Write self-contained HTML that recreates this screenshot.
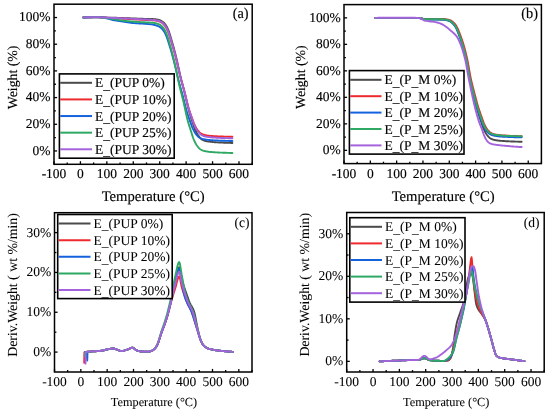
<!DOCTYPE html>
<html><head><meta charset="utf-8"><title>TGA</title><style>
html,body{margin:0;padding:0;background:#fff;width:550px;height:413px;overflow:hidden}
svg{display:block;text-rendering:geometricPrecision}
text{font-family:"Liberation Serif","Times New Roman",serif;fill:#000;stroke:#000;stroke-width:0.14px}
.lite{stroke-width:0.05px}
.tl{font-size:13.5px}
.lt{font-size:13.5px}
.pl{font-size:14.3px}
.xl{font-size:14.7px}
.xl2{font-size:12.3px}
.pl2{font-size:13.5px}
.yl{font-size:13.8px}
.tk{stroke:#000;stroke-width:1.3}
.fr{fill:none;stroke:#000;stroke-width:1.5}
.lg{fill:#fff;stroke:#000;stroke-width:1.6}
</style></head><body>
<svg width="550" height="413" viewBox="0 0 550 413">
<rect width="550" height="413" fill="#fff"/>
<clipPath id="ca"><rect x="54.00" y="4.20" width="198.20" height="160.10"/></clipPath>
<g clip-path="url(#ca)" fill="none" stroke-width="1.9" stroke-linejoin="round" stroke-linecap="round">
<path d="M83.33 17.54L84.98 17.44L86.62 17.35L88.27 17.28L89.91 17.23L91.56 17.19L93.20 17.16L94.85 17.15L96.49 17.14L98.14 17.17L99.78 17.22L101.43 17.29L103.07 17.37L104.72 17.46L106.36 17.52L108.01 17.58L109.65 17.62L111.30 17.67L112.94 17.71L114.59 17.76L116.23 17.80L117.88 17.86L119.52 17.91L121.17 17.97L122.82 18.03L124.46 18.10L126.11 18.16L127.75 18.22L129.40 18.29L131.04 18.35L132.69 18.41L134.33 18.47L135.98 18.54L137.62 18.60L139.27 18.67L140.91 18.73L142.56 18.79L144.20 18.84L145.85 18.89L147.49 18.93L149.14 18.97L149.50 18.98L149.86 18.99L150.23 19.00L150.59 19.01L150.95 19.02L151.32 19.03L151.68 19.04L152.04 19.04L152.41 19.05L152.77 19.06L153.13 19.07L153.50 19.08L153.86 19.10L154.22 19.13L154.59 19.17L154.95 19.21L155.31 19.25L155.68 19.30L156.04 19.35L156.40 19.41L156.77 19.47L157.13 19.52L157.49 19.58L157.86 19.66L158.22 19.74L158.58 19.84L158.95 19.94L159.31 20.05L159.67 20.18L160.04 20.31L160.40 20.45L160.76 20.60L161.13 20.78L161.49 20.98L161.85 21.20L162.22 21.44L162.58 21.69L162.94 21.96L163.31 22.25L163.67 22.57L164.03 22.92L164.40 23.31L164.76 23.73L165.12 24.19L165.49 24.67L165.85 25.18L166.21 25.74L166.58 26.37L166.94 27.04L167.30 27.77L167.67 28.54L168.03 29.36L168.39 30.21L168.76 31.12L169.12 32.11L169.48 33.19L169.85 34.32L170.21 35.50L170.57 36.71L170.94 37.94L171.30 39.18L171.66 40.41L172.03 41.66L172.39 42.92L172.75 44.20L173.12 45.51L173.48 46.83L173.84 48.18L174.21 49.54L174.57 50.92L174.94 52.32L175.30 53.74L175.66 55.18L176.03 56.64L176.39 58.13L176.75 59.67L177.12 61.25L177.48 62.87L177.84 64.52L178.21 66.19L178.57 67.87L178.93 69.55L179.30 71.22L179.66 72.88L180.02 74.51L180.39 76.12L180.75 77.68L181.11 79.19L181.48 80.65L181.84 82.07L182.20 83.46L182.57 84.82L182.93 86.17L183.29 87.52L183.66 88.87L184.02 90.23L184.38 91.62L184.75 93.04L185.11 94.51L185.47 96.03L185.84 97.59L186.20 99.18L186.56 100.78L186.93 102.38L187.29 103.98L187.65 105.56L188.02 107.10L188.38 108.60L188.74 110.04L189.11 111.41L189.47 112.70L189.83 113.94L190.20 115.13L190.56 116.28L190.92 117.40L191.29 118.50L191.65 119.58L192.01 120.64L192.38 121.71L192.74 122.77L193.10 123.86L193.47 124.95L193.83 126.05L194.19 127.12L194.56 128.14L194.92 129.10L195.28 129.98L195.65 130.77L196.01 131.53L196.37 132.26L196.74 132.96L197.10 133.62L197.46 134.25L197.83 134.85L198.19 135.40L198.55 135.92L198.92 136.39L199.28 136.85L199.64 137.30L200.01 137.72L200.37 138.12L200.73 138.49L201.10 138.83L201.46 139.13L201.82 139.38L202.19 139.60L202.55 139.80L202.91 139.99L203.28 140.17L203.64 140.34L204.00 140.49L204.37 140.63L204.73 140.76L205.09 140.88L205.46 140.98L205.82 141.07L206.18 141.14L206.55 141.22L206.91 141.29L207.27 141.35L208.32 141.53L209.37 141.68L210.41 141.82L211.46 141.93L212.50 142.03L213.55 142.12L214.60 142.20L215.64 142.28L216.69 142.34L217.74 142.41L218.78 142.46L219.83 142.52L220.87 142.56L221.92 142.61L222.97 142.65L224.01 142.69L225.06 142.73L226.10 142.77L227.15 142.80L228.20 142.84L229.24 142.88L230.29 142.91L231.33 142.93L232.38 142.95" stroke="#4a4a4a"/>
<path d="M83.33 17.54L84.98 17.45L86.62 17.39L88.27 17.34L89.91 17.31L91.56 17.29L93.20 17.28L94.85 17.28L96.49 17.28L98.14 17.30L99.78 17.37L101.43 17.46L103.07 17.57L104.72 17.68L106.36 17.78L108.01 17.87L109.65 17.96L111.30 18.05L112.94 18.15L114.59 18.24L116.23 18.33L117.88 18.43L119.52 18.52L121.17 18.61L122.82 18.70L124.46 18.79L126.11 18.88L127.75 18.97L129.40 19.06L131.04 19.15L132.69 19.24L134.33 19.34L135.98 19.44L137.62 19.53L139.27 19.63L140.91 19.72L142.56 19.81L144.20 19.89L145.85 19.96L147.49 20.03L149.14 20.09L149.50 20.10L149.86 20.12L150.23 20.13L150.59 20.14L150.95 20.16L151.32 20.17L151.68 20.18L152.04 20.19L152.41 20.21L152.77 20.23L153.13 20.25L153.50 20.28L153.86 20.32L154.22 20.37L154.59 20.41L154.95 20.47L155.31 20.52L155.68 20.58L156.04 20.64L156.40 20.69L156.77 20.76L157.13 20.84L157.49 20.92L157.86 21.01L158.22 21.11L158.58 21.22L158.95 21.34L159.31 21.46L159.67 21.59L160.04 21.75L160.40 21.92L160.76 22.11L161.13 22.32L161.49 22.55L161.85 22.79L162.22 23.04L162.58 23.32L162.94 23.62L163.31 23.96L163.67 24.34L164.03 24.74L164.40 25.17L164.76 25.63L165.12 26.12L165.49 26.66L165.85 27.25L166.21 27.90L166.58 28.59L166.94 29.32L167.30 30.09L167.67 30.90L168.03 31.77L168.39 32.73L168.76 33.74L169.12 34.82L169.48 35.93L169.85 37.08L170.21 38.24L170.57 39.41L170.94 40.57L171.30 41.74L171.66 42.93L172.03 44.14L172.39 45.37L172.75 46.62L173.12 47.89L173.48 49.17L173.84 50.48L174.21 51.80L174.57 53.14L174.94 54.49L175.30 55.87L175.66 57.28L176.03 58.73L176.39 60.23L176.75 61.76L177.12 63.32L177.48 64.89L177.84 66.47L178.21 68.05L178.57 69.62L178.93 71.18L179.30 72.71L179.66 74.21L180.02 75.67L180.39 77.09L180.75 78.45L181.11 79.78L181.48 81.08L181.84 82.36L182.20 83.63L182.57 84.90L182.93 86.17L183.29 87.46L183.66 88.77L184.02 90.11L184.38 91.50L184.75 92.94L185.11 94.41L185.47 95.91L185.84 97.42L186.20 98.93L186.56 100.43L186.93 101.90L187.29 103.35L187.65 104.75L188.02 106.09L188.38 107.37L188.74 108.57L189.11 109.73L189.47 110.84L189.83 111.92L190.20 112.97L190.56 114.00L190.92 115.01L191.29 116.01L191.65 117.01L192.01 118.01L192.38 119.04L192.74 120.07L193.10 121.10L193.47 122.10L193.83 123.05L194.19 123.94L194.56 124.75L194.92 125.49L195.28 126.20L195.65 126.88L196.01 127.53L196.37 128.15L196.74 128.74L197.10 129.29L197.46 129.80L197.83 130.28L198.19 130.73L198.55 131.15L198.92 131.57L199.28 131.96L199.64 132.33L200.01 132.68L200.37 132.99L200.73 133.26L201.10 133.50L201.46 133.70L201.82 133.89L202.19 134.06L202.55 134.23L202.91 134.38L203.28 134.53L203.64 134.66L204.00 134.77L204.37 134.88L204.73 134.97L205.09 135.06L205.46 135.13L205.82 135.20L206.18 135.26L206.55 135.32L206.91 135.38L207.27 135.44L208.32 135.59L209.37 135.72L210.41 135.83L211.46 135.93L212.50 136.02L213.55 136.09L214.60 136.16L215.64 136.23L216.69 136.29L217.74 136.34L218.78 136.39L219.83 136.44L220.87 136.48L221.92 136.52L222.97 136.56L224.01 136.60L225.06 136.63L226.10 136.67L227.15 136.70L228.20 136.74L229.24 136.76L230.29 136.79L231.33 136.81L232.38 136.81" stroke="#ee2a2e"/>
<path d="M83.33 17.54L84.98 17.49L86.62 17.43L88.27 17.39L89.91 17.35L91.56 17.32L93.20 17.29L94.85 17.28L96.49 17.27L98.14 17.27L99.78 17.27L101.43 17.27L103.07 17.38L104.72 17.76L106.36 18.22L108.01 18.65L109.65 19.15L111.30 19.62L112.94 19.96L114.59 20.21L116.23 20.46L117.88 20.71L119.52 20.97L121.17 21.22L122.82 21.48L124.46 21.75L126.11 22.06L127.75 22.39L129.40 22.68L131.04 22.89L132.69 23.04L134.33 23.16L135.98 23.27L137.62 23.36L139.27 23.44L140.91 23.53L142.56 23.62L144.20 23.72L145.85 23.84L147.49 23.98L149.14 24.12L149.50 24.15L149.86 24.18L150.23 24.21L150.59 24.24L150.95 24.28L151.32 24.32L151.68 24.37L152.04 24.43L152.41 24.49L152.77 24.56L153.13 24.64L153.50 24.72L153.86 24.80L154.22 24.88L154.59 24.96L154.95 25.05L155.31 25.15L155.68 25.26L156.04 25.38L156.40 25.51L156.77 25.65L157.13 25.80L157.49 25.92L157.86 26.04L158.22 26.18L158.58 26.34L158.95 26.52L159.31 26.71L159.67 26.93L160.04 27.16L160.40 27.41L160.76 27.67L161.13 27.95L161.49 28.27L161.85 28.62L162.22 29.00L162.58 29.41L162.94 29.85L163.31 30.32L163.67 30.82L164.03 31.38L164.40 31.99L164.76 32.65L165.12 33.36L165.49 34.10L165.85 34.89L166.21 35.71L166.58 36.61L166.94 37.58L167.30 38.62L167.67 39.70L168.03 40.83L168.39 41.98L168.76 43.14L169.12 44.30L169.48 45.45L169.85 46.63L170.21 47.82L170.57 49.04L170.94 50.27L171.30 51.52L171.66 52.79L172.03 54.08L172.39 55.39L172.75 56.71L173.12 58.05L173.48 59.41L173.84 60.79L174.21 62.21L174.57 63.68L174.94 65.18L175.30 66.72L175.66 68.27L176.03 69.84L176.39 71.42L176.75 72.99L177.12 74.55L177.48 76.10L177.84 77.61L178.21 79.10L178.57 80.54L178.93 81.93L179.30 83.27L179.66 84.59L180.02 85.88L180.39 87.15L180.75 88.41L181.11 89.67L181.48 90.94L181.84 92.23L182.20 93.55L182.57 94.90L182.93 96.31L183.29 97.75L183.66 99.23L184.02 100.73L184.38 102.23L184.75 103.74L185.11 105.22L185.47 106.69L185.84 108.11L186.20 109.49L186.56 110.80L186.93 112.05L187.29 113.23L187.65 114.37L188.02 115.46L188.38 116.53L188.74 117.56L189.11 118.58L189.47 119.58L189.83 120.58L190.20 121.58L190.56 122.58L190.92 123.61L191.29 124.64L191.65 125.66L192.01 126.64L192.38 127.57L192.74 128.43L193.10 129.20L193.47 129.92L193.83 130.62L194.19 131.29L194.56 131.93L194.92 132.53L195.28 133.10L195.65 133.64L196.01 134.14L196.37 134.60L196.74 135.04L197.10 135.46L197.46 135.87L197.83 136.25L198.19 136.61L198.55 136.94L198.92 137.24L199.28 137.50L199.64 137.72L200.01 137.91L200.37 138.10L200.73 138.27L201.10 138.43L201.46 138.58L201.82 138.72L202.19 138.84L202.55 138.96L202.91 139.06L203.28 139.15L203.64 139.22L204.00 139.29L204.37 139.36L204.73 139.43L205.09 139.49L205.46 139.54L205.82 139.60L206.18 139.65L206.55 139.70L206.91 139.75L207.27 139.80L208.32 139.92L209.37 140.02L210.41 140.11L211.46 140.19L212.50 140.27L213.55 140.33L214.60 140.40L215.64 140.45L216.69 140.51L217.74 140.55L218.78 140.60L219.83 140.64L220.87 140.68L221.92 140.71L222.97 140.75L224.01 140.79L225.06 140.82L226.10 140.86L227.15 140.89L228.20 140.91L229.24 140.93L230.29 140.95L231.33 140.95L232.38 140.95" stroke="#1462dc"/>
<path d="M83.33 17.54L84.98 17.45L86.62 17.39L88.27 17.34L89.91 17.31L91.56 17.29L93.20 17.28L94.85 17.28L96.49 17.28L98.14 17.31L99.78 17.40L101.43 17.52L103.07 17.68L104.72 17.85L106.36 18.02L108.01 18.22L109.65 18.47L111.30 18.77L112.94 19.09L114.59 19.39L116.23 19.66L117.88 19.89L119.52 20.11L121.17 20.33L122.82 20.55L124.46 20.75L126.11 20.94L127.75 21.12L129.40 21.28L131.04 21.42L132.69 21.55L134.33 21.68L135.98 21.79L137.62 21.90L139.27 22.00L140.91 22.10L142.56 22.19L144.20 22.28L145.85 22.37L147.49 22.45L149.14 22.53L149.50 22.55L149.86 22.57L150.23 22.59L150.59 22.60L150.95 22.62L151.32 22.64L151.68 22.65L152.04 22.68L152.41 22.71L152.77 22.75L153.13 22.80L153.50 22.86L153.86 22.91L154.22 22.98L154.59 23.04L154.95 23.11L155.31 23.18L155.68 23.25L156.04 23.33L156.40 23.42L156.77 23.53L157.13 23.65L157.49 23.76L157.86 23.88L158.22 24.01L158.58 24.15L158.95 24.30L159.31 24.48L159.67 24.68L160.04 24.89L160.40 25.13L160.76 25.39L161.13 25.66L161.49 25.95L161.85 26.26L162.22 26.61L162.58 26.99L162.94 27.42L163.31 27.87L163.67 28.36L164.03 28.88L164.40 29.43L164.76 30.04L165.12 30.72L165.49 31.45L165.85 32.23L166.21 33.06L166.58 33.93L166.94 34.84L167.30 35.83L167.67 36.91L168.03 38.06L168.39 39.27L168.76 40.52L169.12 41.80L169.48 43.10L169.85 44.40L170.21 45.70L170.57 47.01L170.94 48.35L171.30 49.70L171.66 51.08L172.03 52.48L172.39 53.90L172.75 55.34L173.12 56.80L173.48 58.28L173.84 59.78L174.21 61.30L174.57 62.83L174.94 64.42L175.30 66.05L175.66 67.73L176.03 69.45L176.39 71.19L176.75 72.95L177.12 74.71L177.48 76.48L177.84 78.23L178.21 79.96L178.57 81.67L178.93 83.34L179.30 84.96L179.66 86.53L180.02 88.05L180.39 89.53L180.75 90.97L181.11 92.40L181.48 93.82L181.84 95.23L182.20 96.65L182.57 98.10L182.93 99.57L183.29 101.07L183.66 102.64L184.02 104.25L184.38 105.90L184.75 107.58L185.11 109.26L185.47 110.95L185.84 112.62L186.20 114.26L186.56 115.87L186.93 117.42L187.29 118.91L187.65 120.32L188.02 121.66L188.38 122.94L188.74 124.17L189.11 125.37L189.47 126.54L189.83 127.68L190.20 128.81L190.56 129.93L190.92 131.04L191.29 132.17L191.65 133.31L192.01 134.47L192.38 135.61L192.74 136.72L193.10 137.78L193.47 138.76L193.83 139.64L194.19 140.46L194.56 141.24L194.92 142.00L195.28 142.72L195.65 143.40L196.01 144.05L196.37 144.66L196.74 145.23L197.10 145.75L197.46 146.25L197.83 146.72L198.19 147.18L198.55 147.62L198.92 148.02L199.28 148.40L199.64 148.74L200.01 149.04L200.37 149.30L200.73 149.52L201.10 149.72L201.46 149.92L201.82 150.10L202.19 150.27L202.55 150.43L202.91 150.57L203.28 150.70L203.64 150.82L204.00 150.92L204.37 151.01L204.73 151.09L205.09 151.16L205.46 151.24L205.82 151.30L206.18 151.37L206.55 151.43L206.91 151.49L207.27 151.55L208.32 151.70L209.37 151.83L210.41 151.94L211.46 152.04L212.50 152.13L213.55 152.21L214.60 152.28L215.64 152.35L216.69 152.42L217.74 152.47L218.78 152.53L219.83 152.58L220.87 152.62L221.92 152.66L222.97 152.70L224.01 152.74L225.06 152.78L226.10 152.82L227.15 152.86L228.20 152.89L229.24 152.92L230.29 152.94L231.33 152.96L232.38 152.96" stroke="#2fa864"/>
<path d="M83.33 17.54L84.98 17.43L86.62 17.34L88.27 17.27L89.91 17.22L91.56 17.18L93.20 17.16L94.85 17.14L96.49 17.14L98.14 17.17L99.78 17.24L101.43 17.34L103.07 17.45L104.72 17.56L106.36 17.65L108.01 17.73L109.65 17.80L111.30 17.86L112.94 17.93L114.59 18.00L116.23 18.07L117.88 18.14L119.52 18.21L121.17 18.29L122.82 18.36L124.46 18.44L126.11 18.51L127.75 18.59L129.40 18.67L131.04 18.75L132.69 18.83L134.33 18.92L135.98 19.02L137.62 19.11L139.27 19.21L140.91 19.30L142.56 19.39L144.20 19.48L145.85 19.56L147.49 19.64L149.14 19.72L149.50 19.74L149.86 19.76L150.23 19.77L150.59 19.79L150.95 19.81L151.32 19.82L151.68 19.84L152.04 19.86L152.41 19.87L152.77 19.89L153.13 19.92L153.50 19.95L153.86 19.99L154.22 20.03L154.59 20.08L154.95 20.14L155.31 20.20L155.68 20.26L156.04 20.32L156.40 20.39L156.77 20.45L157.13 20.53L157.49 20.60L157.86 20.69L158.22 20.78L158.58 20.89L158.95 21.00L159.31 21.12L159.67 21.25L160.04 21.39L160.40 21.55L160.76 21.73L161.13 21.93L161.49 22.14L161.85 22.38L162.22 22.63L162.58 22.89L162.94 23.18L163.31 23.50L163.67 23.85L164.03 24.24L164.40 24.65L164.76 25.10L165.12 25.57L165.49 26.08L165.85 26.64L166.21 27.26L166.58 27.93L166.94 28.64L167.30 29.40L167.67 30.19L168.03 31.02L168.39 31.93L168.76 32.92L169.12 33.97L169.48 35.07L169.85 36.21L170.21 37.38L170.57 38.56L170.94 39.74L171.30 40.92L171.66 42.12L172.03 43.33L172.39 44.57L172.75 45.82L173.12 47.09L173.48 48.39L173.84 49.70L174.21 51.02L174.57 52.37L174.94 53.73L175.30 55.11L175.66 56.51L176.03 57.96L176.39 59.45L176.75 60.98L177.12 62.54L177.48 64.12L177.84 65.72L178.21 67.32L178.57 68.93L178.93 70.52L179.30 72.09L179.66 73.64L180.02 75.15L180.39 76.63L180.75 78.05L181.11 79.42L181.48 80.76L181.84 82.08L182.20 83.37L182.57 84.66L182.93 85.94L183.29 87.24L183.66 88.55L184.02 89.89L184.38 91.26L184.75 92.69L185.11 94.16L185.47 95.66L185.84 97.18L186.20 98.71L186.56 100.25L186.93 101.76L187.29 103.25L187.65 104.71L188.02 106.12L188.38 107.46L188.74 108.74L189.11 109.95L189.47 111.11L189.83 112.22L190.20 113.31L190.56 114.37L190.92 115.41L191.29 116.43L191.65 117.45L192.01 118.46L192.38 119.48L192.74 120.53L193.10 121.58L193.47 122.61L193.83 123.62L194.19 124.57L194.56 125.45L194.92 126.25L195.28 126.99L195.65 127.70L196.01 128.38L196.37 129.03L196.74 129.65L197.10 130.24L197.46 130.79L197.83 131.30L198.19 131.78L198.55 132.22L198.92 132.65L199.28 133.07L199.64 133.46L200.01 133.83L200.37 134.17L200.73 134.48L201.10 134.75L201.46 134.97L201.82 135.17L202.19 135.36L202.55 135.54L202.91 135.70L203.28 135.86L203.64 136.00L204.00 136.13L204.37 136.24L204.73 136.35L205.09 136.44L205.46 136.52L205.82 136.59L206.18 136.66L206.55 136.72L206.91 136.79L207.27 136.84L208.32 137.00L209.37 137.14L210.41 137.26L211.46 137.36L212.50 137.45L213.55 137.53L214.60 137.60L215.64 137.67L216.69 137.73L217.74 137.79L218.78 137.84L219.83 137.89L220.87 137.93L221.92 137.98L222.97 138.01L224.01 138.05L225.06 138.09L226.10 138.12L227.15 138.16L228.20 138.19L229.24 138.22L230.29 138.25L231.33 138.27L232.38 138.28" stroke="#a463dc"/>
</g>
<clipPath id="cb"><rect x="344.00" y="4.60" width="197.40" height="159.00"/></clipPath>
<g clip-path="url(#cb)" fill="none" stroke-width="1.9" stroke-linejoin="round" stroke-linecap="round">
<path d="M375.32 17.85L376.91 17.85L378.49 17.85L380.08 17.85L381.66 17.85L383.25 17.85L384.84 17.85L386.42 17.85L388.01 17.85L389.59 17.85L391.18 17.85L392.76 17.85L394.35 17.85L395.94 17.85L397.52 17.85L399.11 17.85L400.69 17.85L402.28 17.85L403.86 17.85L405.45 17.85L407.04 17.85L408.62 17.85L410.21 17.85L411.79 17.86L413.38 17.87L414.97 17.89L416.55 17.92L418.14 17.96L419.72 18.06L421.31 18.48L422.89 18.94L424.48 19.31L426.07 19.34L427.65 19.36L429.24 19.38L430.82 19.39L432.41 19.40L433.99 19.40L435.58 19.41L437.17 19.42L438.75 19.44L439.11 19.44L439.48 19.45L439.84 19.45L440.20 19.46L440.56 19.46L440.92 19.47L441.29 19.48L441.65 19.48L442.01 19.49L442.37 19.49L442.73 19.50L443.09 19.51L443.46 19.52L443.82 19.55L444.18 19.59L444.54 19.64L444.90 19.69L445.27 19.75L445.63 19.82L445.99 19.88L446.35 19.95L446.71 20.03L447.08 20.09L447.44 20.17L447.80 20.25L448.16 20.35L448.52 20.46L448.89 20.57L449.25 20.70L449.61 20.84L449.97 21.00L450.33 21.17L450.69 21.37L451.06 21.61L451.42 21.88L451.78 22.17L452.14 22.48L452.50 22.81L452.87 23.14L453.23 23.49L453.59 23.87L453.95 24.27L454.31 24.70L454.68 25.16L455.04 25.65L455.40 26.18L455.76 26.74L456.12 27.36L456.49 28.05L456.85 28.81L457.21 29.63L457.57 30.51L457.93 31.41L458.29 32.34L458.66 33.29L459.02 34.23L459.38 35.19L459.74 36.16L460.10 37.17L460.47 38.20L460.83 39.26L461.19 40.34L461.55 41.46L461.91 42.61L462.28 43.79L462.64 45.00L463.00 46.25L463.36 47.54L463.72 48.86L464.08 50.22L464.45 51.62L464.81 53.06L465.17 54.55L465.53 56.08L465.89 57.66L466.26 59.28L466.62 60.95L466.98 62.73L467.34 64.67L467.70 66.72L468.07 68.86L468.43 71.05L468.79 73.25L469.15 75.42L469.51 77.52L469.88 79.53L470.24 81.40L470.60 83.12L470.96 84.76L471.32 86.33L471.68 87.85L472.05 89.34L472.41 90.80L472.77 92.24L473.13 93.70L473.49 95.16L473.86 96.62L474.22 98.08L474.58 99.54L474.94 100.99L475.30 102.42L475.67 103.83L476.03 105.23L476.39 106.60L476.75 107.94L477.11 109.25L477.48 110.53L477.84 111.76L478.20 112.96L478.56 114.13L478.92 115.27L479.28 116.38L479.65 117.47L480.01 118.55L480.37 119.62L480.73 120.67L481.09 121.73L481.46 122.80L481.82 123.88L482.18 124.96L482.54 126.02L482.90 127.04L483.27 127.99L483.63 128.86L483.99 129.65L484.35 130.40L484.71 131.12L485.08 131.82L485.44 132.47L485.80 133.10L486.16 133.69L486.52 134.24L486.88 134.75L487.25 135.22L487.61 135.68L487.97 136.12L488.33 136.54L488.69 136.93L489.06 137.30L489.42 137.64L489.78 137.94L490.14 138.19L490.50 138.41L490.87 138.61L491.23 138.80L491.59 138.98L491.95 139.14L492.31 139.30L492.68 139.44L493.04 139.56L493.40 139.68L493.76 139.78L494.12 139.87L494.48 139.95L494.85 140.02L495.21 140.09L495.57 140.15L495.93 140.22L496.29 140.28L496.66 140.34L497.70 140.49L498.74 140.62L499.78 140.73L500.82 140.83L501.87 140.92L502.91 141.00L503.95 141.07L504.99 141.14L506.03 141.20L507.07 141.25L508.12 141.31L509.16 141.35L510.20 141.40L511.24 141.44L512.28 141.48L513.33 141.51L514.37 141.55L515.41 141.59L516.45 141.63L517.49 141.66L518.53 141.69L519.58 141.71L520.62 141.73L521.66 141.74" stroke="#4a4a4a"/>
<path d="M375.32 17.85L376.91 17.85L378.49 17.85L380.08 17.85L381.66 17.85L383.25 17.85L384.84 17.85L386.42 17.85L388.01 17.85L389.59 17.85L391.18 17.85L392.76 17.85L394.35 17.85L395.94 17.85L397.52 17.85L399.11 17.85L400.69 17.85L402.28 17.85L403.86 17.85L405.45 17.85L407.04 17.85L408.62 17.85L410.21 17.85L411.79 17.86L413.38 17.87L414.97 17.89L416.55 17.92L418.14 17.96L419.72 18.05L421.31 18.38L422.89 18.75L424.48 19.04L426.07 19.04L427.65 19.04L429.24 19.04L430.82 19.04L432.41 19.04L433.99 19.04L435.58 19.04L437.17 19.04L438.75 19.04L439.11 19.04L439.48 19.04L439.84 19.04L440.20 19.04L440.56 19.04L440.92 19.04L441.29 19.04L441.65 19.04L442.01 19.04L442.37 19.04L442.73 19.04L443.09 19.04L443.46 19.04L443.82 19.05L444.18 19.06L444.54 19.09L444.90 19.12L445.27 19.17L445.63 19.21L445.99 19.27L446.35 19.33L446.71 19.39L447.08 19.45L447.44 19.51L447.80 19.58L448.16 19.66L448.52 19.74L448.89 19.84L449.25 19.95L449.61 20.07L449.97 20.20L450.33 20.34L450.69 20.49L451.06 20.67L451.42 20.89L451.78 21.13L452.14 21.40L452.50 21.69L452.87 22.00L453.23 22.32L453.59 22.65L453.95 23.00L454.31 23.37L454.68 23.77L455.04 24.20L455.40 24.65L455.76 25.14L456.12 25.67L456.49 26.23L456.85 26.86L457.21 27.56L457.57 28.32L457.93 29.14L458.29 30.00L458.66 30.88L459.02 31.78L459.38 32.69L459.74 33.59L460.10 34.52L460.47 35.47L460.83 36.45L461.19 37.45L461.55 38.48L461.91 39.54L462.28 40.62L462.64 41.74L463.00 42.89L463.36 44.07L463.72 45.29L464.08 46.54L464.45 47.83L464.81 49.15L465.17 50.52L465.53 51.93L465.89 53.37L466.26 54.87L466.62 56.40L466.98 57.98L467.34 59.63L467.70 61.42L468.07 63.34L468.43 65.36L468.79 67.44L469.15 69.55L469.51 71.65L469.88 73.70L470.24 75.67L470.60 77.52L470.96 79.23L471.32 80.83L471.68 82.37L472.05 83.85L472.41 85.29L472.77 86.70L473.13 88.09L473.49 89.48L473.86 90.87L474.22 92.28L474.58 93.68L474.94 95.08L475.30 96.47L475.67 97.85L476.03 99.22L476.39 100.56L476.75 101.89L477.11 103.19L477.48 104.46L477.84 105.70L478.20 106.90L478.56 108.06L478.92 109.20L479.28 110.30L479.65 111.38L480.01 112.43L480.37 113.47L480.73 114.50L481.09 115.52L481.46 116.53L481.82 117.54L482.18 118.58L482.54 119.62L482.90 120.65L483.27 121.64L483.63 122.58L483.99 123.46L484.35 124.24L484.71 124.98L485.08 125.69L485.44 126.36L485.80 127.01L486.16 127.62L486.52 128.20L486.88 128.75L487.25 129.25L487.61 129.73L487.97 130.17L488.33 130.59L488.69 131.00L489.06 131.39L489.42 131.76L489.78 132.10L490.14 132.40L490.50 132.67L490.87 132.89L491.23 133.09L491.59 133.28L491.95 133.45L492.31 133.61L492.68 133.77L493.04 133.91L493.40 134.03L493.76 134.15L494.12 134.25L494.48 134.34L494.85 134.42L495.21 134.49L495.57 134.56L495.93 134.63L496.29 134.69L496.66 134.75L497.70 134.90L498.74 135.04L499.78 135.15L500.82 135.26L501.87 135.35L502.91 135.43L503.95 135.50L504.99 135.56L506.03 135.63L507.07 135.68L508.12 135.73L509.16 135.78L510.20 135.83L511.24 135.87L512.28 135.91L513.33 135.94L514.37 135.98L515.41 136.01L516.45 136.05L517.49 136.08L518.53 136.11L519.58 136.14L520.62 136.16L521.66 136.17" stroke="#ee2a2e"/>
<path d="M375.32 17.85L376.91 17.85L378.49 17.85L380.08 17.85L381.66 17.85L383.25 17.85L384.84 17.85L386.42 17.85L388.01 17.85L389.59 17.85L391.18 17.85L392.76 17.85L394.35 17.85L395.94 17.85L397.52 17.85L399.11 17.85L400.69 17.85L402.28 17.85L403.86 17.85L405.45 17.85L407.04 17.85L408.62 17.85L410.21 17.85L411.79 17.86L413.38 17.87L414.97 17.89L416.55 17.92L418.14 17.96L419.72 18.06L421.31 18.48L422.89 18.94L424.48 19.30L426.07 19.37L427.65 19.41L429.24 19.45L430.82 19.47L432.41 19.49L433.99 19.51L435.58 19.53L437.17 19.55L438.75 19.57L439.11 19.58L439.48 19.59L439.84 19.59L440.20 19.60L440.56 19.60L440.92 19.61L441.29 19.62L441.65 19.62L442.01 19.63L442.37 19.63L442.73 19.64L443.09 19.67L443.46 19.70L443.82 19.74L444.18 19.78L444.54 19.84L444.90 19.90L445.27 19.96L445.63 20.03L445.99 20.10L446.35 20.17L446.71 20.24L447.08 20.31L447.44 20.40L447.80 20.50L448.16 20.61L448.52 20.73L448.89 20.85L449.25 20.99L449.61 21.15L449.97 21.33L450.33 21.54L450.69 21.78L451.06 22.05L451.42 22.34L451.78 22.65L452.14 22.97L452.50 23.30L452.87 23.64L453.23 24.02L453.59 24.41L453.95 24.84L454.31 25.30L454.68 25.79L455.04 26.31L455.40 26.87L455.76 27.49L456.12 28.19L456.49 28.96L456.85 29.77L457.21 30.63L457.57 31.51L457.93 32.42L458.29 33.33L458.66 34.24L459.02 35.17L459.38 36.12L459.74 37.10L460.10 38.10L460.47 39.13L460.83 40.19L461.19 41.28L461.55 42.40L461.91 43.56L462.28 44.74L462.64 45.96L463.00 47.21L463.36 48.50L463.72 49.83L464.08 51.20L464.45 52.61L464.81 54.06L465.17 55.55L465.53 57.09L465.89 58.68L466.26 60.32L466.62 62.10L466.98 64.02L467.34 66.04L467.70 68.13L468.07 70.25L468.43 72.36L468.79 74.42L469.15 76.41L469.51 78.29L469.88 80.01L470.24 81.63L470.60 83.18L470.96 84.67L471.32 86.12L471.68 87.54L472.05 88.94L472.41 90.33L472.77 91.73L473.13 93.14L473.49 94.55L473.86 95.96L474.22 97.36L474.58 98.74L474.94 100.12L475.30 101.47L475.67 102.81L476.03 104.11L476.39 105.39L476.75 106.64L477.11 107.85L477.48 109.03L477.84 110.16L478.20 111.27L478.56 112.36L478.92 113.42L479.28 114.47L479.65 115.50L480.01 116.52L480.37 117.54L480.73 118.56L481.09 119.60L481.46 120.64L481.82 121.67L482.18 122.68L482.54 123.63L482.90 124.52L483.27 125.31L483.63 126.06L483.99 126.77L484.35 127.45L484.71 128.10L485.08 128.72L485.44 129.31L485.80 129.86L486.16 130.37L486.52 130.85L486.88 131.29L487.25 131.72L487.61 132.14L487.97 132.53L488.33 132.90L488.69 133.24L489.06 133.55L489.42 133.82L489.78 134.05L490.14 134.25L490.50 134.44L490.87 134.62L491.23 134.78L491.59 134.93L491.95 135.08L492.31 135.21L492.68 135.32L493.04 135.43L493.40 135.52L493.76 135.60L494.12 135.67L494.48 135.74L494.85 135.81L495.21 135.87L495.57 135.93L495.93 135.98L496.29 136.04L496.66 136.09L497.70 136.23L498.74 136.34L499.78 136.45L500.82 136.54L501.87 136.62L502.91 136.69L503.95 136.75L504.99 136.82L506.03 136.87L507.07 136.92L508.12 136.97L509.16 137.02L510.20 137.06L511.24 137.10L512.28 137.13L513.33 137.17L514.37 137.21L515.41 137.24L516.45 137.28L517.49 137.31L518.53 137.33L519.58 137.35L520.62 137.36L521.66 137.36" stroke="#1462dc"/>
<path d="M375.32 17.85L376.91 17.85L378.49 17.85L380.08 17.85L381.66 17.85L383.25 17.85L384.84 17.85L386.42 17.85L388.01 17.85L389.59 17.85L391.18 17.85L392.76 17.85L394.35 17.85L395.94 17.85L397.52 17.85L399.11 17.85L400.69 17.85L402.28 17.85L403.86 17.85L405.45 17.85L407.04 17.85L408.62 17.85L410.21 17.85L411.79 17.86L413.38 17.87L414.97 17.89L416.55 17.92L418.14 17.96L419.72 18.05L421.31 18.38L422.89 18.80L424.48 19.17L426.07 19.21L427.65 19.23L429.24 19.26L430.82 19.27L432.41 19.29L433.99 19.30L435.58 19.30L437.17 19.31L438.75 19.31L439.11 19.31L439.48 19.31L439.84 19.31L440.20 19.31L440.56 19.31L440.92 19.31L441.29 19.31L441.65 19.31L442.01 19.31L442.37 19.31L442.73 19.31L443.09 19.31L443.46 19.33L443.82 19.36L444.18 19.40L444.54 19.44L444.90 19.49L445.27 19.54L445.63 19.60L445.99 19.66L446.35 19.72L446.71 19.79L447.08 19.86L447.44 19.94L447.80 20.02L448.16 20.12L448.52 20.24L448.89 20.36L449.25 20.49L449.61 20.63L449.97 20.79L450.33 20.97L450.69 21.19L451.06 21.44L451.42 21.72L451.78 22.01L452.14 22.32L452.50 22.64L452.87 22.97L453.23 23.32L453.59 23.70L453.95 24.10L454.31 24.54L454.68 25.00L455.04 25.50L455.40 26.02L455.76 26.59L456.12 27.24L456.49 27.95L456.85 28.72L457.21 29.55L457.57 30.41L457.93 31.29L458.29 32.19L458.66 33.10L459.02 34.01L459.38 34.94L459.74 35.89L460.10 36.87L460.47 37.88L460.83 38.91L461.19 39.97L461.55 41.07L461.91 42.19L462.28 43.34L462.64 44.53L463.00 45.75L463.36 47.01L463.72 48.30L464.08 49.63L464.45 51.00L464.81 52.41L465.17 53.87L465.53 55.37L465.89 56.91L466.26 58.50L466.62 60.16L466.98 61.97L467.34 63.92L467.70 65.95L468.07 68.03L468.43 70.14L468.79 72.23L469.15 74.27L469.51 76.22L469.88 78.04L470.24 79.72L470.60 81.31L470.96 82.84L471.32 84.31L471.68 85.74L472.05 87.14L472.41 88.53L472.77 89.91L473.13 91.31L473.49 92.71L473.86 94.12L474.22 95.51L474.58 96.90L474.94 98.28L475.30 99.64L475.67 100.98L476.03 102.30L476.39 103.59L476.75 104.85L477.11 106.09L477.48 107.28L477.84 108.44L478.20 109.56L478.56 110.66L478.92 111.73L479.28 112.78L479.65 113.82L480.01 114.84L480.37 115.86L480.73 116.87L481.09 117.88L481.46 118.92L481.82 119.96L482.18 120.98L482.54 121.97L482.90 122.90L483.27 123.76L483.63 124.53L483.99 125.25L484.35 125.95L484.71 126.62L485.08 127.26L485.44 127.87L485.80 128.44L486.16 128.98L486.52 129.48L486.88 129.95L487.25 130.38L487.61 130.81L487.97 131.22L488.33 131.60L488.69 131.96L489.06 132.29L489.42 132.59L489.78 132.85L490.14 133.07L490.50 133.26L490.87 133.44L491.23 133.62L491.59 133.78L491.95 133.93L492.31 134.07L492.68 134.19L493.04 134.30L493.40 134.41L493.76 134.49L494.12 134.57L494.48 134.64L494.85 134.71L495.21 134.77L495.57 134.83L495.93 134.89L496.29 134.95L496.66 135.00L497.70 135.14L498.74 135.26L499.78 135.37L500.82 135.46L501.87 135.54L502.91 135.61L503.95 135.68L504.99 135.74L506.03 135.80L507.07 135.85L508.12 135.90L509.16 135.95L510.20 135.99L511.24 136.03L512.28 136.07L513.33 136.10L514.37 136.14L515.41 136.17L516.45 136.21L517.49 136.24L518.53 136.27L519.58 136.29L520.62 136.30L521.66 136.30" stroke="#2fa864"/>
<path d="M375.32 17.85L376.91 17.83L378.49 17.82L380.08 17.80L381.66 17.79L383.25 17.78L384.84 17.77L386.42 17.75L388.01 17.74L389.59 17.74L391.18 17.73L392.76 17.72L394.35 17.72L395.94 17.72L397.52 17.72L399.11 17.72L400.69 17.72L402.28 17.72L403.86 17.72L405.45 17.72L407.04 17.72L408.62 17.72L410.21 17.72L411.79 17.73L413.38 17.75L414.97 17.79L416.55 17.85L418.14 17.93L419.72 18.13L421.31 18.87L422.89 19.76L424.48 20.62L426.07 20.90L427.65 21.09L429.24 21.30L430.82 21.49L432.41 21.68L433.99 21.89L435.58 22.15L437.17 22.49L438.75 22.95L439.11 23.08L439.48 23.20L439.84 23.33L440.20 23.47L440.56 23.61L440.92 23.76L441.29 23.90L441.65 24.06L442.01 24.23L442.37 24.41L442.73 24.60L443.09 24.81L443.46 25.02L443.82 25.24L444.18 25.47L444.54 25.70L444.90 25.94L445.27 26.19L445.63 26.44L445.99 26.69L446.35 26.95L446.71 27.22L447.08 27.50L447.44 27.79L447.80 28.09L448.16 28.40L448.52 28.71L448.89 29.02L449.25 29.34L449.61 29.66L449.97 29.98L450.33 30.31L450.69 30.62L451.06 30.93L451.42 31.24L451.78 31.54L452.14 31.84L452.50 32.14L452.87 32.45L453.23 32.76L453.59 33.08L453.95 33.41L454.31 33.76L454.68 34.11L455.04 34.48L455.40 34.88L455.76 35.29L456.12 35.72L456.49 36.18L456.85 36.67L457.21 37.22L457.57 37.81L457.93 38.45L458.29 39.14L458.66 39.87L459.02 40.64L459.38 41.44L459.74 42.28L460.10 43.14L460.47 44.02L460.83 44.93L461.19 45.89L461.55 46.90L461.91 47.95L462.28 49.05L462.64 50.20L463.00 51.39L463.36 52.63L463.72 53.92L464.08 55.26L464.45 56.64L464.81 58.08L465.17 59.56L465.53 61.12L465.89 62.86L466.26 64.77L466.62 66.79L466.98 68.89L467.34 71.02L467.70 73.13L468.07 75.19L468.43 77.14L468.79 78.98L469.15 80.80L469.51 82.59L469.88 84.35L470.24 86.09L470.60 87.81L470.96 89.51L471.32 91.20L471.68 92.86L472.05 94.53L472.41 96.19L472.77 97.85L473.13 99.50L473.49 101.13L473.86 102.74L474.22 104.31L474.58 105.85L474.94 107.35L475.30 108.79L475.67 110.19L476.03 111.54L476.39 112.87L476.75 114.18L477.11 115.45L477.48 116.70L477.84 117.91L478.20 119.09L478.56 120.24L478.92 121.35L479.28 122.43L479.65 123.46L480.01 124.43L480.37 125.34L480.73 126.22L481.09 127.09L481.46 127.97L481.82 128.89L482.18 129.87L482.54 130.93L482.90 132.01L483.27 133.08L483.63 134.10L483.99 135.03L484.35 135.90L484.71 136.73L485.08 137.54L485.44 138.28L485.80 138.95L486.16 139.53L486.52 140.07L486.88 140.58L487.25 141.06L487.61 141.51L487.97 141.91L488.33 142.27L488.69 142.57L489.06 142.82L489.42 143.02L489.78 143.22L490.14 143.39L490.50 143.55L490.87 143.70L491.23 143.84L491.59 143.96L491.95 144.07L492.31 144.16L492.68 144.25L493.04 144.32L493.40 144.40L493.76 144.46L494.12 144.52L494.48 144.58L494.85 144.63L495.21 144.68L495.57 144.73L495.93 144.78L496.29 144.82L496.66 144.86L497.70 144.99L498.74 145.11L499.78 145.23L500.82 145.35L501.87 145.46L502.91 145.57L503.95 145.67L504.99 145.77L506.03 145.87L507.07 145.97L508.12 146.06L509.16 146.16L510.20 146.25L511.24 146.34L512.28 146.43L513.33 146.51L514.37 146.59L515.41 146.66L516.45 146.73L517.49 146.80L518.53 146.87L519.58 146.93L520.62 146.98L521.66 147.04" stroke="#a463dc"/>
</g>
<clipPath id="cc"><rect x="54.50" y="212.70" width="197.50" height="159.30"/></clipPath>
<g clip-path="url(#cc)" fill="none" stroke-width="1.9" stroke-linejoin="round" stroke-linecap="round">
<path d="M84.78 355.27L84.98 353.19L85.18 352.09L85.64 351.95L86.10 351.89L86.63 351.83L87.15 351.77L87.68 351.73L88.21 351.69L88.73 351.66L89.26 351.62L89.79 351.59L90.31 351.56L90.84 351.53L91.37 351.49L91.89 351.45L92.42 351.41L92.95 351.38L93.47 351.35L94.00 351.31L94.53 351.28L95.05 351.25L95.58 351.22L96.11 351.18L96.63 351.15L97.16 351.12L97.69 351.08L98.21 351.04L98.74 351.00L99.27 350.96L99.79 350.91L100.32 350.86L100.85 350.81L101.37 350.75L101.90 350.69L102.45 350.61L103.00 350.51L103.55 350.38L104.09 350.24L104.64 350.09L105.19 349.93L105.74 349.77L106.29 349.61L106.84 349.46L107.39 349.32L107.93 349.20L108.48 349.10L109.04 349.01L109.60 348.92L110.15 348.83L110.71 348.74L111.26 348.67L111.82 348.60L112.37 348.55L112.93 348.52L113.49 348.50L114.01 348.54L114.54 348.66L115.07 348.83L115.59 349.03L116.12 349.26L116.65 349.49L117.17 349.71L117.70 349.90L118.26 350.09L118.83 350.32L119.39 350.54L119.96 350.75L120.52 350.93L121.09 351.05L121.65 351.09L122.18 351.07L122.70 351.00L123.23 350.89L123.76 350.76L124.28 350.60L124.81 350.42L125.34 350.23L125.86 350.05L126.39 349.87L126.92 349.70L127.47 349.51L128.02 349.28L128.58 349.02L129.13 348.75L129.68 348.49L130.23 348.25L130.79 348.03L131.34 347.86L131.89 347.75L132.45 347.71L132.97 347.80L133.50 348.04L134.03 348.39L134.55 348.81L135.08 349.25L135.61 349.68L136.13 350.04L136.66 350.30L137.19 350.48L137.71 350.67L138.24 350.84L138.77 351.00L139.29 351.14L139.82 351.27L140.35 351.37L140.87 351.44L141.40 351.49L141.95 351.52L142.50 351.55L143.05 351.57L143.59 351.60L144.14 351.62L144.69 351.64L145.24 351.65L145.79 351.67L146.34 351.68L146.89 351.68L147.43 351.69L147.98 351.69L148.54 351.66L149.10 351.59L149.66 351.48L150.22 351.33L150.78 351.15L151.34 350.95L151.90 350.73L152.46 350.49L152.99 350.22L153.51 349.85L154.04 349.40L154.57 348.87L155.09 348.26L155.62 347.60L156.15 346.88L156.67 346.11L157.23 345.13L157.79 343.88L158.34 342.42L158.90 340.80L159.45 339.07L160.01 337.29L160.56 335.52L161.12 333.79L161.68 332.18L162.20 330.73L162.73 329.33L163.26 327.94L163.78 326.55L164.31 325.15L164.84 323.71L165.36 322.22L165.89 320.67L166.42 319.03L166.98 317.18L167.55 315.24L168.11 313.22L168.67 311.10L169.24 308.91L169.80 306.64L170.37 304.30L170.89 301.95L171.42 299.40L171.95 296.71L172.47 293.93L173.00 291.14L173.53 288.40L174.05 285.76L174.58 283.30L175.11 281.07L175.69 278.59L176.28 275.95L176.87 273.35L177.45 270.98L178.04 269.05L178.63 267.74L179.21 267.26L179.83 268.67L180.45 272.02L181.07 275.95L181.69 279.14L182.25 281.18L182.80 283.07L183.36 284.84L183.91 286.52L184.47 288.12L185.03 289.68L185.58 291.22L186.14 292.77L186.69 294.34L187.27 296.02L187.85 297.68L188.43 299.31L189.01 300.87L189.59 302.31L190.15 303.54L190.71 304.62L191.27 305.62L191.83 306.59L192.39 307.60L192.95 308.70L193.51 309.97L194.07 311.47L194.65 313.54L195.24 316.20L195.83 319.22L196.42 322.38L197.01 325.44L197.60 328.19L198.21 330.87L198.82 333.56L199.43 336.12L200.04 338.36L200.65 340.14L201.18 341.38L201.70 342.51L202.23 343.52L202.76 344.41L203.28 345.14L203.81 345.72L204.37 346.21L204.92 346.66L205.48 347.06L206.03 347.42L206.59 347.75L207.15 348.04L207.70 348.29L208.26 348.51L208.81 348.70L209.34 348.86L209.87 349.01L210.39 349.16L210.92 349.29L211.45 349.42L211.97 349.53L212.50 349.65L213.03 349.75L213.55 349.85L214.08 349.94L214.61 350.03L215.13 350.12L215.66 350.20L216.19 350.28L216.71 350.35L217.24 350.42L217.77 350.49L218.29 350.56L218.82 350.63L219.35 350.69L219.87 350.75L220.40 350.80L220.93 350.86L221.45 350.91L221.98 350.96L222.51 351.01L223.03 351.06L223.56 351.10L224.09 351.15L224.61 351.20L225.14 351.24L225.67 351.29L226.21 351.34L226.76 351.39L227.31 351.44L227.85 351.49L228.40 351.53L228.95 351.58L229.50 351.63L230.04 351.67L230.59 351.72L231.14 351.76L231.68 351.80L232.23 351.85L232.78 351.89" stroke="#4a4a4a"/>
<path d="M84.20 362.84L84.30 356.23L84.39 352.49L84.98 352.01L85.57 351.89L86.10 351.82L86.63 351.76L87.15 351.72L87.68 351.68L88.21 351.65L88.73 351.62L89.26 351.60L89.79 351.58L90.31 351.55L90.84 351.52L91.37 351.49L91.89 351.45L92.42 351.42L92.95 351.38L93.47 351.35L94.00 351.32L94.53 351.29L95.05 351.25L95.58 351.22L96.11 351.19L96.63 351.16L97.16 351.12L97.69 351.08L98.21 351.04L98.74 351.00L99.27 350.96L99.79 350.91L100.32 350.86L100.85 350.81L101.37 350.75L101.90 350.69L102.45 350.61L103.00 350.51L103.55 350.38L104.09 350.24L104.64 350.09L105.19 349.93L105.74 349.77L106.29 349.61L106.84 349.46L107.39 349.32L107.93 349.20L108.48 349.10L109.04 349.01L109.60 348.92L110.15 348.83L110.71 348.74L111.26 348.67L111.82 348.60L112.37 348.55L112.93 348.52L113.49 348.50L114.01 348.54L114.54 348.66L115.07 348.83L115.59 349.03L116.12 349.26L116.65 349.49L117.17 349.71L117.70 349.90L118.26 350.09L118.83 350.32L119.39 350.54L119.96 350.75L120.52 350.93L121.09 351.05L121.65 351.09L122.18 351.07L122.70 351.00L123.23 350.89L123.76 350.76L124.28 350.60L124.81 350.42L125.34 350.23L125.86 350.05L126.39 349.87L126.92 349.70L127.47 349.51L128.02 349.28L128.58 349.02L129.13 348.75L129.68 348.49L130.23 348.25L130.79 348.03L131.34 347.86L131.89 347.75L132.45 347.71L132.97 347.80L133.50 348.04L134.03 348.39L134.55 348.81L135.08 349.25L135.61 349.68L136.13 350.04L136.66 350.30L137.19 350.48L137.71 350.67L138.24 350.84L138.77 351.00L139.29 351.14L139.82 351.27L140.35 351.37L140.87 351.44L141.40 351.49L141.95 351.52L142.50 351.55L143.05 351.57L143.59 351.60L144.14 351.62L144.69 351.64L145.24 351.65L145.79 351.67L146.34 351.68L146.89 351.68L147.43 351.69L147.98 351.69L148.54 351.66L149.10 351.59L149.66 351.48L150.22 351.33L150.78 351.15L151.34 350.95L151.90 350.73L152.46 350.49L152.99 350.22L153.51 349.85L154.04 349.40L154.57 348.87L155.09 348.26L155.62 347.60L156.15 346.88L156.67 346.11L157.23 345.13L157.79 343.88L158.34 342.42L158.90 340.80L159.45 339.07L160.01 337.29L160.56 335.52L161.12 333.79L161.68 332.18L162.20 330.73L162.73 329.33L163.26 327.94L163.78 326.55L164.31 325.15L164.84 323.71L165.36 322.22L165.89 320.67L166.42 319.03L166.98 317.13L167.55 315.08L168.11 312.92L168.67 310.71L169.24 308.50L169.80 306.34L170.37 304.30L170.89 302.47L171.42 300.67L171.95 298.91L172.47 297.16L173.00 295.44L173.53 293.74L174.05 292.06L174.58 290.39L175.11 288.74L175.69 286.71L176.28 284.42L176.87 282.09L177.45 279.92L178.04 278.11L178.63 276.88L179.21 276.42L179.83 277.66L180.45 280.61L181.07 284.11L181.69 287.01L182.28 289.03L182.88 290.88L183.47 292.62L184.06 294.34L184.64 296.03L185.22 297.70L185.80 299.32L186.38 300.87L186.96 302.31L187.52 303.57L188.08 304.72L188.64 305.79L189.20 306.84L189.75 307.89L190.31 308.99L190.87 310.17L191.43 311.47L191.97 312.85L192.51 314.36L193.04 315.96L193.58 317.65L194.12 319.39L194.66 321.16L195.19 322.95L195.73 324.74L196.27 326.49L196.81 328.19L197.35 329.96L197.90 331.80L198.45 333.67L199.00 335.49L199.55 337.22L200.10 338.79L200.65 340.14L201.18 341.30L201.70 342.41L202.23 343.44L202.76 344.36L203.28 345.13L203.81 345.72L204.37 346.21L204.92 346.66L205.48 347.06L206.03 347.42L206.59 347.75L207.15 348.04L207.70 348.29L208.26 348.51L208.81 348.70L209.34 348.86L209.87 349.01L210.39 349.16L210.92 349.29L211.45 349.42L211.97 349.53L212.50 349.65L213.03 349.75L213.55 349.85L214.08 349.94L214.61 350.03L215.13 350.12L215.66 350.20L216.19 350.28L216.71 350.35L217.24 350.42L217.77 350.49L218.29 350.56L218.82 350.63L219.35 350.69L219.87 350.75L220.40 350.80L220.93 350.86L221.45 350.91L221.98 350.96L222.51 351.01L223.03 351.06L223.56 351.10L224.09 351.15L224.61 351.20L225.14 351.24L225.67 351.29L226.21 351.34L226.76 351.39L227.31 351.44L227.85 351.49L228.40 351.53L228.95 351.58L229.50 351.63L230.04 351.67L230.59 351.72L231.14 351.76L231.68 351.80L232.23 351.85L232.78 351.89" stroke="#ee2a2e"/>
<path d="M84.78 351.89L85.40 351.89L86.01 351.89L86.63 351.89L86.93 356.17L87.23 360.45L87.39 356.19L87.55 351.89L88.14 351.74L88.73 351.69L89.26 351.64L89.79 351.60L90.31 351.56L90.84 351.53L91.37 351.49L91.89 351.45L92.42 351.41L92.95 351.38L93.47 351.35L94.00 351.31L94.53 351.28L95.05 351.25L95.58 351.22L96.11 351.18L96.63 351.15L97.16 351.12L97.69 351.08L98.21 351.04L98.74 351.00L99.27 350.96L99.79 350.91L100.32 350.86L100.85 350.81L101.37 350.75L101.90 350.69L102.45 350.61L103.00 350.51L103.55 350.38L104.09 350.24L104.64 350.09L105.19 349.93L105.74 349.77L106.29 349.61L106.84 349.46L107.39 349.32L107.93 349.20L108.48 349.10L109.04 349.01L109.60 348.92L110.15 348.83L110.71 348.74L111.26 348.67L111.82 348.60L112.37 348.55L112.93 348.52L113.49 348.50L114.01 348.54L114.54 348.66L115.07 348.83L115.59 349.03L116.12 349.26L116.65 349.49L117.17 349.71L117.70 349.90L118.26 350.09L118.83 350.32L119.39 350.54L119.96 350.75L120.52 350.93L121.09 351.05L121.65 351.09L122.18 351.07L122.70 351.00L123.23 350.89L123.76 350.76L124.28 350.60L124.81 350.42L125.34 350.23L125.86 350.05L126.39 349.87L126.92 349.70L127.47 349.51L128.02 349.28L128.58 349.02L129.13 348.75L129.68 348.49L130.23 348.25L130.79 348.03L131.34 347.86L131.89 347.75L132.45 347.71L132.97 347.80L133.50 348.04L134.03 348.39L134.55 348.81L135.08 349.25L135.61 349.68L136.13 350.04L136.66 350.30L137.19 350.48L137.71 350.67L138.24 350.84L138.77 351.00L139.29 351.14L139.82 351.27L140.35 351.37L140.87 351.44L141.40 351.49L141.95 351.52L142.50 351.55L143.05 351.57L143.59 351.60L144.14 351.62L144.69 351.64L145.24 351.65L145.79 351.67L146.34 351.68L146.89 351.68L147.43 351.69L147.98 351.69L148.54 351.66L149.10 351.59L149.66 351.48L150.22 351.33L150.78 351.15L151.34 350.95L151.90 350.73L152.46 350.49L152.99 350.22L153.51 349.85L154.04 349.40L154.57 348.87L155.09 348.26L155.62 347.60L156.15 346.88L156.67 346.11L157.23 345.13L157.79 343.88L158.34 342.42L158.90 340.80L159.45 339.07L160.01 337.29L160.56 335.52L161.12 333.79L161.68 332.18L162.20 330.73L162.73 329.33L163.26 327.94L163.78 326.55L164.31 325.15L164.84 323.71L165.36 322.22L165.89 320.67L166.42 319.03L166.98 317.18L167.55 315.23L168.11 313.18L168.67 311.06L169.24 308.87L169.80 306.61L170.37 304.30L170.89 302.01L171.42 299.56L171.95 296.98L172.47 294.35L173.00 291.70L173.53 289.09L174.05 286.59L174.58 284.23L175.11 282.07L175.69 279.65L176.28 277.05L176.87 274.49L177.45 272.15L178.04 270.23L178.63 268.93L179.21 268.45L179.83 269.67L180.45 272.67L181.07 276.49L181.69 280.16L182.28 283.72L182.88 287.69L183.47 291.44L184.06 294.34L184.64 296.36L185.22 298.08L185.80 299.57L186.38 300.95L186.96 302.31L187.52 303.57L188.08 304.72L188.64 305.79L189.20 306.84L189.75 307.89L190.31 308.99L190.87 310.17L191.43 311.47L191.97 312.85L192.51 314.36L193.04 315.96L193.58 317.65L194.12 319.39L194.66 321.16L195.19 322.95L195.73 324.74L196.27 326.49L196.81 328.19L197.35 329.96L197.90 331.80L198.45 333.67L199.00 335.49L199.55 337.22L200.10 338.79L200.65 340.14L201.18 341.30L201.70 342.41L202.23 343.44L202.76 344.36L203.28 345.13L203.81 345.72L204.37 346.21L204.92 346.66L205.48 347.06L206.03 347.42L206.59 347.75L207.15 348.04L207.70 348.29L208.26 348.51L208.81 348.70L209.34 348.86L209.87 349.01L210.39 349.16L210.92 349.29L211.45 349.42L211.97 349.53L212.50 349.65L213.03 349.75L213.55 349.85L214.08 349.94L214.61 350.03L215.13 350.12L215.66 350.20L216.19 350.28L216.71 350.35L217.24 350.42L217.77 350.49L218.29 350.56L218.82 350.63L219.35 350.69L219.87 350.75L220.40 350.80L220.93 350.86L221.45 350.91L221.98 350.96L222.51 351.01L223.03 351.06L223.56 351.10L224.09 351.15L224.61 351.20L225.14 351.24L225.67 351.29L226.21 351.34L226.76 351.39L227.31 351.44L227.85 351.49L228.40 351.53L228.95 351.58L229.50 351.63L230.04 351.67L230.59 351.72L231.14 351.76L231.68 351.80L232.23 351.85L232.78 351.89" stroke="#1462dc"/>
<path d="M84.78 356.07L84.98 353.30L85.18 351.89L85.64 351.89L86.10 351.89L86.63 351.88L87.15 351.86L87.68 351.83L88.21 351.79L88.73 351.74L89.26 351.69L89.79 351.63L90.31 351.58L90.84 351.53L91.37 351.49L91.89 351.45L92.42 351.41L92.95 351.38L93.47 351.35L94.00 351.31L94.53 351.28L95.05 351.25L95.58 351.22L96.11 351.18L96.63 351.15L97.16 351.12L97.69 351.08L98.21 351.04L98.74 351.00L99.27 350.96L99.79 350.91L100.32 350.86L100.85 350.81L101.37 350.75L101.90 350.69L102.45 350.61L103.00 350.51L103.55 350.38L104.09 350.24L104.64 350.09L105.19 349.93L105.74 349.77L106.29 349.61L106.84 349.46L107.39 349.32L107.93 349.20L108.48 349.10L109.04 349.01L109.60 348.92L110.15 348.83L110.71 348.74L111.26 348.67L111.82 348.60L112.37 348.55L112.93 348.52L113.49 348.50L114.01 348.54L114.54 348.66L115.07 348.83L115.59 349.03L116.12 349.26L116.65 349.49L117.17 349.71L117.70 349.90L118.26 350.09L118.83 350.32L119.39 350.54L119.96 350.75L120.52 350.93L121.09 351.05L121.65 351.09L122.18 351.07L122.70 351.00L123.23 350.89L123.76 350.76L124.28 350.60L124.81 350.42L125.34 350.23L125.86 350.05L126.39 349.87L126.92 349.70L127.47 349.51L128.02 349.28L128.58 349.02L129.13 348.75L129.68 348.49L130.23 348.25L130.79 348.03L131.34 347.86L131.89 347.75L132.45 347.71L132.97 347.80L133.50 348.04L134.03 348.39L134.55 348.81L135.08 349.25L135.61 349.68L136.13 350.04L136.66 350.30L137.19 350.48L137.71 350.67L138.24 350.84L138.77 351.00L139.29 351.14L139.82 351.27L140.35 351.37L140.87 351.44L141.40 351.49L141.95 351.52L142.50 351.55L143.05 351.57L143.59 351.60L144.14 351.62L144.69 351.64L145.24 351.65L145.79 351.67L146.34 351.68L146.89 351.68L147.43 351.69L147.98 351.69L148.54 351.66L149.10 351.59L149.66 351.48L150.22 351.34L150.78 351.16L151.34 350.96L151.90 350.73L152.46 350.49L152.99 350.20L153.51 349.80L154.04 349.30L154.57 348.70L155.09 348.03L155.62 347.28L156.15 346.48L156.67 345.64L157.23 344.56L157.79 343.21L158.34 341.63L158.90 339.88L159.45 338.02L160.01 336.10L160.56 334.18L161.12 332.33L161.68 330.58L162.20 329.03L162.73 327.51L163.26 326.01L163.78 324.51L164.31 322.99L164.84 321.44L165.36 319.83L165.89 318.16L166.42 316.39L166.98 314.38L167.55 312.27L168.11 310.06L168.67 307.77L169.24 305.40L169.80 302.96L170.37 300.47L170.89 298.02L171.42 295.40L171.95 292.65L172.47 289.84L173.00 287.02L173.53 284.24L174.05 281.56L174.58 279.04L175.11 276.73L175.69 274.13L176.28 271.35L176.87 268.58L177.45 266.06L178.04 263.99L178.63 262.60L179.21 262.08L179.83 263.47L180.45 266.82L181.07 270.96L181.69 274.68L182.25 277.62L182.82 280.68L183.38 283.76L183.95 286.76L184.51 289.59L185.08 292.15L185.64 294.34L186.22 296.24L186.80 297.94L187.38 299.48L187.96 300.92L188.54 302.31L189.10 303.55L189.66 304.66L190.22 305.70L190.77 306.70L191.33 307.73L191.89 308.84L192.45 310.06L193.01 311.47L193.55 313.07L194.08 314.95L194.61 317.05L195.15 319.29L195.68 321.59L196.21 323.89L196.75 326.11L197.28 328.19L197.84 330.34L198.40 332.56L198.96 334.74L199.53 336.80L200.09 338.63L200.65 340.14L201.18 341.34L201.70 342.47L202.23 343.49L202.76 344.39L203.28 345.14L203.81 345.72L204.37 346.21L204.92 346.66L205.48 347.06L206.03 347.42L206.59 347.75L207.15 348.04L207.70 348.29L208.26 348.51L208.81 348.70L209.34 348.86L209.87 349.01L210.39 349.16L210.92 349.29L211.45 349.42L211.97 349.53L212.50 349.65L213.03 349.75L213.55 349.85L214.08 349.94L214.61 350.03L215.13 350.12L215.66 350.20L216.19 350.28L216.71 350.35L217.24 350.42L217.77 350.49L218.29 350.56L218.82 350.63L219.35 350.69L219.87 350.75L220.40 350.80L220.93 350.86L221.45 350.91L221.98 350.96L222.51 351.01L223.03 351.06L223.56 351.10L224.09 351.15L224.61 351.20L225.14 351.24L225.67 351.29L226.21 351.34L226.76 351.39L227.31 351.44L227.85 351.49L228.40 351.53L228.95 351.58L229.50 351.63L230.04 351.67L230.59 351.72L231.14 351.76L231.68 351.80L232.23 351.85L232.78 351.89" stroke="#2fa864"/>
<path d="M85.52 363.64L85.63 356.45L85.73 352.49L86.18 352.02L86.63 351.89L87.15 351.80L87.68 351.74L88.21 351.69L88.73 351.65L89.26 351.61L89.79 351.59L90.31 351.56L90.84 351.53L91.37 351.49L91.89 351.45L92.42 351.41L92.95 351.37L93.47 351.34L94.00 351.31L94.53 351.27L95.05 351.24L95.58 351.21L96.11 351.18L96.63 351.14L97.16 351.11L97.69 351.08L98.21 351.04L98.74 351.00L99.27 350.96L99.79 350.91L100.32 350.86L100.85 350.81L101.37 350.75L101.90 350.69L102.45 350.61L103.00 350.51L103.55 350.38L104.09 350.24L104.64 350.09L105.19 349.93L105.74 349.77L106.29 349.61L106.84 349.46L107.39 349.32L107.93 349.20L108.48 349.10L109.04 349.01L109.60 348.92L110.15 348.83L110.71 348.74L111.26 348.67L111.82 348.60L112.37 348.55L112.93 348.52L113.49 348.50L114.01 348.54L114.54 348.66L115.07 348.83L115.59 349.03L116.12 349.26L116.65 349.49L117.17 349.71L117.70 349.90L118.26 350.09L118.83 350.32L119.39 350.54L119.96 350.75L120.52 350.93L121.09 351.05L121.65 351.09L122.18 351.07L122.70 351.00L123.23 350.89L123.76 350.76L124.28 350.60L124.81 350.42L125.34 350.23L125.86 350.05L126.39 349.87L126.92 349.70L127.47 349.51L128.02 349.28L128.58 349.02L129.13 348.75L129.68 348.49L130.23 348.25L130.79 348.03L131.34 347.86L131.89 347.75L132.45 347.71L132.97 347.80L133.50 348.04L134.03 348.39L134.55 348.81L135.08 349.25L135.61 349.68L136.13 350.04L136.66 350.30L137.19 350.48L137.71 350.67L138.24 350.84L138.77 351.00L139.29 351.14L139.82 351.27L140.35 351.37L140.87 351.44L141.40 351.49L141.95 351.52L142.50 351.55L143.05 351.57L143.59 351.60L144.14 351.62L144.69 351.64L145.24 351.65L145.79 351.67L146.34 351.68L146.89 351.68L147.43 351.69L147.98 351.69L148.54 351.66L149.10 351.59L149.66 351.48L150.22 351.33L150.78 351.15L151.34 350.95L151.90 350.73L152.46 350.49L152.99 350.22L153.51 349.85L154.04 349.40L154.57 348.87L155.09 348.26L155.62 347.60L156.15 346.88L156.67 346.11L157.23 345.13L157.79 343.88L158.34 342.42L158.90 340.80L159.45 339.07L160.01 337.29L160.56 335.52L161.12 333.79L161.68 332.18L162.20 330.73L162.73 329.33L163.26 327.94L163.78 326.55L164.31 325.15L164.84 323.71L165.36 322.22L165.89 320.67L166.42 319.03L166.98 317.16L167.55 315.17L168.11 313.09L168.67 310.94L169.24 308.74L169.80 306.52L170.37 304.30L170.89 302.19L171.42 299.99L171.95 297.74L172.47 295.46L173.00 293.19L173.53 290.95L174.05 288.78L174.58 286.70L175.11 284.74L175.69 282.47L176.28 279.99L176.87 277.52L177.45 275.25L178.04 273.38L178.63 272.11L179.21 271.64L179.83 272.95L180.45 276.07L181.07 279.79L181.69 282.90L182.26 285.05L182.83 287.08L183.40 289.00L183.97 290.84L184.54 292.61L185.11 294.34L185.69 296.07L186.27 297.74L186.85 299.35L187.43 300.88L188.01 302.31L188.57 303.56L189.13 304.68L189.69 305.73L190.25 306.75L190.81 307.79L191.37 308.89L191.93 310.10L192.49 311.47L193.07 313.12L193.65 315.02L194.22 317.11L194.80 319.32L195.38 321.59L195.96 323.87L196.54 326.09L197.12 328.19L197.71 330.31L198.30 332.51L198.89 334.69L199.47 336.75L200.06 338.60L200.65 340.14L201.18 341.33L201.70 342.45L202.23 343.47L202.76 344.38L203.28 345.13L203.81 345.72L204.37 346.21L204.92 346.66L205.48 347.06L206.03 347.42L206.59 347.75L207.15 348.04L207.70 348.29L208.26 348.51L208.81 348.70L209.34 348.86L209.87 349.01L210.39 349.16L210.92 349.29L211.45 349.42L211.97 349.53L212.50 349.65L213.03 349.75L213.55 349.85L214.08 349.94L214.61 350.03L215.13 350.12L215.66 350.20L216.19 350.28L216.71 350.35L217.24 350.42L217.77 350.49L218.29 350.56L218.82 350.63L219.35 350.69L219.87 350.75L220.40 350.80L220.93 350.86L221.45 350.91L221.98 350.96L222.51 351.01L223.03 351.06L223.56 351.10L224.09 351.15L224.61 351.20L225.14 351.24L225.67 351.29L226.21 351.34L226.76 351.39L227.31 351.44L227.85 351.49L228.40 351.53L228.95 351.58L229.50 351.63L230.04 351.67L230.59 351.72L231.14 351.76L231.68 351.80L232.23 351.85L232.78 351.89" stroke="#a463dc"/>
</g>
<clipPath id="cd"><rect x="346.70" y="212.50" width="197.50" height="159.50"/></clipPath>
<g clip-path="url(#cd)" fill="none" stroke-width="1.9" stroke-linejoin="round" stroke-linecap="round">
<path d="M379.62 361.37L380.16 361.34L380.70 361.31L381.24 361.29L381.79 361.26L382.33 361.24L382.87 361.21L383.41 361.19L383.95 361.16L384.50 361.13L385.04 361.11L385.58 361.09L386.12 361.06L386.66 361.04L387.21 361.01L387.75 360.99L388.29 360.96L388.83 360.94L389.36 360.92L389.89 360.90L390.41 360.87L390.94 360.85L391.47 360.83L391.99 360.81L392.52 360.79L393.05 360.77L393.57 360.75L394.10 360.73L394.63 360.70L395.15 360.68L395.68 360.66L396.21 360.64L396.73 360.62L397.26 360.60L397.79 360.58L398.31 360.56L398.84 360.54L399.37 360.52L399.89 360.49L400.42 360.47L400.95 360.44L401.47 360.42L402.00 360.39L402.53 360.36L403.05 360.33L403.58 360.31L404.11 360.28L404.63 360.25L405.16 360.22L405.69 360.20L406.21 360.18L406.74 360.16L407.27 360.14L407.79 360.12L408.32 360.11L408.85 360.10L409.37 360.09L409.90 360.09L410.43 360.09L410.95 360.09L411.48 360.09L412.01 360.09L412.53 360.09L413.06 360.09L413.59 360.09L414.11 360.09L414.64 360.09L415.17 360.09L415.69 360.09L416.22 360.09L416.75 360.09L417.27 360.09L417.80 360.09L418.35 360.05L418.90 359.95L419.45 359.79L419.99 359.59L420.54 359.37L421.09 359.13L421.64 358.90L422.19 358.67L422.74 358.48L423.29 358.32L423.83 358.21L424.38 358.18L424.93 358.22L425.48 358.34L426.04 358.53L426.59 358.76L427.14 359.02L427.69 359.30L428.24 359.57L428.79 359.82L429.34 360.04L429.89 360.21L430.44 360.30L430.99 360.36L431.53 360.41L432.08 360.45L432.63 360.49L433.17 360.52L433.72 360.55L434.27 360.58L434.82 360.61L435.36 360.64L435.91 360.66L436.46 360.68L437.00 360.71L437.55 360.73L438.10 360.75L438.65 360.78L439.20 360.81L439.75 360.83L440.30 360.86L440.85 360.88L441.40 360.90L441.95 360.92L442.51 360.93L443.06 360.94L443.61 360.94L444.17 360.93L444.73 360.91L445.29 360.88L445.85 360.83L446.40 360.77L446.96 360.70L447.52 360.61L448.08 360.52L448.61 360.32L449.14 359.95L449.66 359.43L450.19 358.76L450.72 357.96L451.33 356.35L451.95 353.78L452.56 350.73L453.09 347.40L453.61 343.21L454.14 338.86L454.67 335.00L455.19 331.63L455.72 328.42L456.25 325.52L456.77 323.09L457.30 321.09L457.83 319.35L458.35 317.78L458.88 316.31L459.41 314.84L459.93 313.30L460.48 311.71L461.03 310.20L461.58 308.71L462.13 307.15L462.68 305.44L463.23 303.52L463.85 300.89L464.48 297.82L465.10 294.51L465.73 291.19L466.32 287.69L466.91 283.85L467.50 280.39L468.10 278.00L468.68 276.46L469.26 275.07L469.83 273.94L470.41 273.18L470.99 272.90L471.52 273.39L472.05 274.63L472.57 276.30L473.10 279.28L473.63 283.73L474.15 288.21L474.68 292.63L475.21 297.35L475.73 301.54L476.26 304.37L476.79 306.05L477.31 307.40L477.84 308.51L478.37 309.45L478.89 310.33L479.42 311.11L479.95 311.79L480.47 312.41L481.00 313.03L481.53 313.73L482.09 314.53L482.66 315.32L483.22 316.14L483.78 317.01L484.35 317.94L484.91 318.97L485.48 320.11L486.05 321.48L486.62 323.11L487.19 324.92L487.76 326.84L488.33 328.81L488.90 330.74L489.43 332.53L489.95 334.38L490.48 336.27L491.01 338.18L491.53 340.10L492.06 342.08L492.59 344.13L493.11 346.17L493.64 348.12L494.17 349.88L494.69 351.60L495.22 353.30L495.75 354.73L496.27 355.62L496.80 356.12L497.33 356.53L497.85 356.87L498.38 357.14L498.91 357.36L499.43 357.54L499.96 357.70L500.49 357.84L501.01 357.96L501.54 358.08L502.07 358.18L502.59 358.27L503.12 358.36L503.65 358.44L504.17 358.52L504.70 358.60L505.23 358.68L505.75 358.75L506.28 358.81L506.81 358.88L507.33 358.94L507.86 359.00L508.39 359.05L508.91 359.11L509.44 359.18L509.97 359.24L510.49 359.31L511.02 359.38L511.55 359.45L512.07 359.52L512.60 359.59L513.13 359.66L513.65 359.73L514.18 359.80L514.71 359.88L515.23 359.95L515.76 360.02L516.29 360.09L516.81 360.16L517.34 360.23L517.87 360.30L518.42 360.38L518.96 360.45L519.51 360.52L520.06 360.59L520.61 360.66L521.16 360.73L521.71 360.80L522.26 360.87L522.80 360.94L523.35 361.01L523.90 361.08L524.45 361.15" stroke="#4a4a4a"/>
<path d="M379.62 361.37L380.16 361.34L380.70 361.31L381.24 361.29L381.79 361.26L382.33 361.24L382.87 361.21L383.41 361.19L383.95 361.16L384.50 361.13L385.04 361.11L385.58 361.09L386.12 361.06L386.66 361.04L387.21 361.01L387.75 360.99L388.29 360.96L388.83 360.94L389.36 360.92L389.89 360.90L390.41 360.87L390.94 360.85L391.47 360.83L391.99 360.81L392.52 360.79L393.05 360.77L393.57 360.75L394.10 360.73L394.63 360.70L395.15 360.68L395.68 360.66L396.21 360.64L396.73 360.62L397.26 360.60L397.79 360.58L398.31 360.56L398.84 360.54L399.37 360.52L399.89 360.49L400.42 360.47L400.95 360.44L401.47 360.42L402.00 360.39L402.53 360.36L403.05 360.33L403.58 360.31L404.11 360.28L404.63 360.25L405.16 360.22L405.69 360.20L406.21 360.18L406.74 360.16L407.27 360.14L407.79 360.12L408.32 360.11L408.85 360.10L409.37 360.09L409.90 360.09L410.43 360.09L410.95 360.09L411.48 360.09L412.01 360.09L412.53 360.09L413.06 360.09L413.59 360.09L414.11 360.09L414.64 360.09L415.17 360.09L415.69 360.09L416.22 360.09L416.75 360.09L417.27 360.09L417.80 360.09L418.35 360.05L418.90 359.95L419.45 359.79L419.99 359.59L420.54 359.37L421.09 359.13L421.64 358.90L422.19 358.67L422.74 358.48L423.29 358.32L423.83 358.21L424.38 358.18L424.93 358.22L425.48 358.34L426.04 358.53L426.59 358.76L427.14 359.02L427.69 359.30L428.24 359.57L428.79 359.82L429.34 360.04L429.89 360.21L430.44 360.30L430.99 360.36L431.53 360.41L432.08 360.45L432.63 360.49L433.17 360.52L433.72 360.55L434.27 360.58L434.82 360.61L435.36 360.64L435.91 360.66L436.46 360.68L437.00 360.71L437.55 360.73L438.10 360.75L438.65 360.78L439.20 360.81L439.75 360.83L440.30 360.86L440.85 360.88L441.40 360.90L441.95 360.92L442.51 360.93L443.06 360.94L443.61 360.94L444.17 360.93L444.73 360.88L445.29 360.81L445.85 360.71L446.40 360.59L446.96 360.44L447.52 360.28L448.08 360.09L448.61 359.81L449.14 359.33L449.66 358.71L450.19 357.96L450.72 357.11L451.24 355.97L451.77 354.43L452.30 352.63L452.82 350.73L453.35 348.67L453.88 346.32L454.40 343.78L454.93 341.15L455.46 338.53L455.98 336.02L456.51 333.72L457.08 331.44L457.65 329.27L458.22 327.18L458.79 325.12L459.36 323.06L459.93 320.96L460.50 318.89L461.06 316.87L461.63 314.87L462.19 312.83L462.75 310.71L463.32 308.48L463.88 306.07L464.45 303.51L465.01 300.82L465.58 297.99L466.14 294.98L466.70 291.80L467.27 288.41L467.83 284.81L468.36 280.92L468.89 276.49L469.41 271.97L469.94 267.79L470.47 263.33L470.99 259.06L471.52 257.16L472.05 261.00L472.57 269.08L473.10 276.30L473.63 281.26L474.15 285.91L474.68 290.12L475.21 293.76L475.73 296.72L476.26 299.10L476.79 301.15L477.31 302.95L477.84 304.57L478.37 306.07L478.89 307.49L479.42 308.80L479.95 310.02L480.47 311.16L481.00 312.25L481.53 313.30L482.09 314.35L482.66 315.28L483.22 316.15L483.78 317.02L484.35 317.93L484.91 318.94L485.48 320.11L486.05 321.52L486.62 323.15L487.19 324.96L487.76 326.87L488.33 328.81L488.90 330.74L489.43 332.53L489.95 334.38L490.48 336.27L491.01 338.18L491.53 340.10L492.06 342.08L492.59 344.13L493.11 346.17L493.64 348.12L494.17 349.88L494.69 351.60L495.22 353.30L495.75 354.73L496.27 355.62L496.80 356.12L497.33 356.53L497.85 356.87L498.38 357.14L498.91 357.36L499.43 357.54L499.96 357.70L500.49 357.84L501.01 357.96L501.54 358.08L502.07 358.18L502.59 358.27L503.12 358.36L503.65 358.44L504.17 358.52L504.70 358.60L505.23 358.68L505.75 358.75L506.28 358.81L506.81 358.88L507.33 358.94L507.86 359.00L508.39 359.05L508.91 359.11L509.44 359.18L509.97 359.24L510.49 359.31L511.02 359.38L511.55 359.45L512.07 359.52L512.60 359.59L513.13 359.66L513.65 359.73L514.18 359.80L514.71 359.88L515.23 359.95L515.76 360.02L516.29 360.09L516.81 360.16L517.34 360.23L517.87 360.30L518.42 360.38L518.96 360.45L519.51 360.52L520.06 360.59L520.61 360.66L521.16 360.73L521.71 360.80L522.26 360.87L522.80 360.94L523.35 361.01L523.90 361.08L524.45 361.15" stroke="#ee2a2e"/>
<path d="M379.62 361.37L380.16 361.34L380.70 361.31L381.24 361.29L381.79 361.26L382.33 361.24L382.87 361.21L383.41 361.19L383.95 361.16L384.50 361.13L385.04 361.11L385.58 361.09L386.12 361.06L386.66 361.04L387.21 361.01L387.75 360.99L388.29 360.96L388.83 360.94L389.36 360.92L389.89 360.90L390.41 360.87L390.94 360.85L391.47 360.83L391.99 360.81L392.52 360.79L393.05 360.77L393.57 360.75L394.10 360.73L394.63 360.70L395.15 360.68L395.68 360.66L396.21 360.64L396.73 360.62L397.26 360.60L397.79 360.58L398.31 360.56L398.84 360.54L399.37 360.52L399.89 360.49L400.42 360.47L400.95 360.44L401.47 360.42L402.00 360.39L402.53 360.36L403.05 360.33L403.58 360.31L404.11 360.28L404.63 360.25L405.16 360.22L405.69 360.20L406.21 360.18L406.74 360.16L407.27 360.14L407.79 360.12L408.32 360.11L408.85 360.10L409.37 360.09L409.90 360.09L410.43 360.09L410.95 360.09L411.48 360.09L412.01 360.09L412.53 360.09L413.06 360.09L413.59 360.09L414.11 360.09L414.64 360.09L415.17 360.09L415.69 360.09L416.22 360.09L416.75 360.09L417.27 360.09L417.80 360.09L418.35 360.05L418.90 359.95L419.45 359.79L419.99 359.59L420.54 359.37L421.09 359.13L421.64 358.90L422.19 358.67L422.74 358.48L423.29 358.32L423.83 358.21L424.38 358.18L424.93 358.22L425.48 358.34L426.04 358.53L426.59 358.76L427.14 359.02L427.69 359.30L428.24 359.57L428.79 359.82L429.34 360.04L429.89 360.21L430.44 360.30L430.99 360.36L431.53 360.41L432.08 360.45L432.63 360.49L433.17 360.52L433.72 360.55L434.27 360.58L434.82 360.61L435.36 360.64L435.91 360.66L436.46 360.68L437.00 360.71L437.55 360.73L438.10 360.75L438.65 360.78L439.20 360.81L439.75 360.83L440.30 360.86L440.85 360.88L441.40 360.90L441.95 360.92L442.51 360.93L443.06 360.94L443.61 360.94L444.17 360.90L444.73 360.80L445.29 360.63L445.85 360.42L446.40 360.16L446.96 359.88L447.52 359.57L448.08 359.24L448.61 358.88L449.14 358.43L449.66 357.90L450.19 357.27L450.72 356.55L451.24 355.76L451.77 354.87L452.30 353.91L452.82 352.86L453.35 351.49L453.88 349.63L454.40 347.44L454.93 345.03L455.46 342.56L455.98 340.16L456.51 337.97L457.08 335.81L457.65 333.71L458.22 331.64L458.79 329.56L459.36 327.43L459.93 325.21L460.50 322.96L461.06 320.69L461.63 318.38L462.19 316.00L462.75 313.53L463.32 310.93L463.88 308.20L464.45 305.19L465.01 301.87L465.58 298.36L466.14 294.78L466.70 291.25L467.27 287.88L467.83 284.81L468.40 281.69L468.96 278.31L469.53 274.94L470.09 271.85L470.65 269.30L471.22 267.58L471.78 266.94L472.31 268.23L472.84 271.47L473.36 275.73L473.89 280.06L474.42 283.53L474.98 286.38L475.55 289.10L476.11 291.67L476.67 294.11L477.24 296.40L477.80 298.54L478.37 300.54L478.94 302.41L479.51 304.12L480.08 305.72L480.65 307.26L481.22 308.78L481.79 310.33L482.32 311.75L482.84 313.13L483.37 314.49L483.90 315.85L484.42 317.22L484.95 318.64L485.48 320.11L486.05 321.77L486.62 323.48L487.19 325.23L487.76 327.03L488.33 328.86L488.90 330.74L489.43 332.53L489.95 334.38L490.48 336.27L491.01 338.18L491.53 340.10L492.06 342.08L492.59 344.13L493.11 346.17L493.64 348.12L494.17 349.88L494.69 351.60L495.22 353.30L495.75 354.73L496.27 355.62L496.80 356.12L497.33 356.53L497.85 356.87L498.38 357.14L498.91 357.36L499.43 357.54L499.96 357.70L500.49 357.84L501.01 357.96L501.54 358.08L502.07 358.18L502.59 358.27L503.12 358.36L503.65 358.44L504.17 358.52L504.70 358.60L505.23 358.68L505.75 358.75L506.28 358.81L506.81 358.88L507.33 358.94L507.86 359.00L508.39 359.05L508.91 359.11L509.44 359.18L509.97 359.24L510.49 359.31L511.02 359.38L511.55 359.45L512.07 359.52L512.60 359.59L513.13 359.66L513.65 359.73L514.18 359.80L514.71 359.88L515.23 359.95L515.76 360.02L516.29 360.09L516.81 360.16L517.34 360.23L517.87 360.30L518.42 360.38L518.96 360.45L519.51 360.52L520.06 360.59L520.61 360.66L521.16 360.73L521.71 360.80L522.26 360.87L522.80 360.94L523.35 361.01L523.90 361.08L524.45 361.15" stroke="#1462dc"/>
<path d="M379.62 361.37L380.16 361.34L380.70 361.31L381.24 361.29L381.79 361.26L382.33 361.24L382.87 361.21L383.41 361.19L383.95 361.16L384.50 361.13L385.04 361.11L385.58 361.09L386.12 361.06L386.66 361.04L387.21 361.01L387.75 360.99L388.29 360.96L388.83 360.94L389.36 360.92L389.89 360.90L390.41 360.87L390.94 360.85L391.47 360.83L391.99 360.81L392.52 360.79L393.05 360.77L393.57 360.75L394.10 360.73L394.63 360.70L395.15 360.68L395.68 360.66L396.21 360.64L396.73 360.62L397.26 360.60L397.79 360.58L398.31 360.56L398.84 360.54L399.37 360.52L399.89 360.49L400.42 360.47L400.95 360.44L401.47 360.42L402.00 360.39L402.53 360.36L403.05 360.33L403.58 360.31L404.11 360.28L404.63 360.25L405.16 360.22L405.69 360.20L406.21 360.18L406.74 360.16L407.27 360.14L407.79 360.12L408.32 360.11L408.85 360.10L409.37 360.09L409.90 360.09L410.43 360.09L410.95 360.09L411.48 360.09L412.01 360.09L412.53 360.09L413.06 360.09L413.59 360.09L414.11 360.09L414.64 360.09L415.17 360.09L415.69 360.09L416.22 360.09L416.75 360.09L417.27 360.09L417.80 360.09L418.35 360.05L418.90 359.95L419.45 359.79L419.99 359.59L420.54 359.37L421.09 359.13L421.64 358.90L422.19 358.67L422.74 358.48L423.29 358.32L423.83 358.21L424.38 358.18L424.93 358.22L425.48 358.34L426.04 358.53L426.59 358.76L427.14 359.02L427.69 359.30L428.24 359.57L428.79 359.82L429.34 360.04L429.89 360.21L430.44 360.30L430.99 360.36L431.53 360.41L432.08 360.45L432.63 360.49L433.17 360.52L433.72 360.55L434.27 360.58L434.82 360.61L435.36 360.64L435.91 360.66L436.46 360.68L437.00 360.71L437.55 360.73L438.10 360.75L438.65 360.78L439.20 360.81L439.75 360.83L440.30 360.86L440.85 360.88L441.40 360.90L441.95 360.92L442.51 360.93L443.06 360.94L443.61 360.94L444.17 360.87L444.73 360.68L445.29 360.40L445.85 360.03L446.40 359.60L446.96 359.13L447.52 358.65L448.08 358.18L448.61 357.72L449.14 357.23L449.66 356.69L450.19 356.09L450.72 355.43L451.24 354.71L451.77 353.90L452.30 353.00L452.82 352.01L453.35 350.71L453.88 348.97L454.40 346.92L454.93 344.67L455.46 342.35L455.98 340.08L456.51 337.97L457.08 335.86L457.65 333.80L458.22 331.74L458.79 329.66L459.36 327.49L459.93 325.21L460.46 322.99L460.99 320.66L461.51 318.26L462.04 315.79L462.57 313.28L463.09 310.74L463.62 308.20L464.15 305.61L464.67 302.94L465.20 300.21L465.73 297.46L466.25 294.73L466.78 292.04L467.31 289.43L467.83 286.93L468.36 284.28L468.89 281.33L469.41 278.36L469.94 275.60L470.47 273.32L470.99 271.77L471.52 271.20L472.10 272.29L472.68 275.06L473.26 278.73L473.84 282.52L474.42 285.66L474.98 288.11L475.55 290.49L476.11 292.79L476.67 295.00L477.24 297.11L477.80 299.10L478.37 300.97L478.94 302.71L479.51 304.33L480.08 305.86L480.65 307.34L481.22 308.82L481.79 310.33L482.32 311.73L482.84 313.10L483.37 314.46L483.90 315.82L484.42 317.21L484.95 318.63L485.48 320.11L486.05 321.77L486.62 323.48L487.19 325.23L487.76 327.03L488.33 328.86L488.90 330.74L489.43 332.53L489.95 334.38L490.48 336.27L491.01 338.18L491.53 340.10L492.06 342.08L492.59 344.13L493.11 346.17L493.64 348.12L494.17 349.88L494.69 351.60L495.22 353.30L495.75 354.73L496.27 355.62L496.80 356.12L497.33 356.53L497.85 356.87L498.38 357.14L498.91 357.36L499.43 357.54L499.96 357.70L500.49 357.84L501.01 357.96L501.54 358.08L502.07 358.18L502.59 358.27L503.12 358.36L503.65 358.44L504.17 358.52L504.70 358.60L505.23 358.68L505.75 358.75L506.28 358.81L506.81 358.88L507.33 358.94L507.86 359.00L508.39 359.05L508.91 359.11L509.44 359.18L509.97 359.24L510.49 359.31L511.02 359.38L511.55 359.45L512.07 359.52L512.60 359.59L513.13 359.66L513.65 359.73L514.18 359.80L514.71 359.88L515.23 359.95L515.76 360.02L516.29 360.09L516.81 360.16L517.34 360.23L517.87 360.30L518.42 360.38L518.96 360.45L519.51 360.52L520.06 360.59L520.61 360.66L521.16 360.73L521.71 360.80L522.26 360.87L522.80 360.94L523.35 361.01L523.90 361.08L524.45 361.15" stroke="#2fa864"/>
<path d="M379.62 361.37L380.16 361.34L380.70 361.31L381.24 361.29L381.79 361.26L382.33 361.24L382.87 361.21L383.41 361.19L383.95 361.16L384.50 361.13L385.04 361.11L385.58 361.09L386.12 361.06L386.66 361.04L387.21 361.01L387.75 360.99L388.29 360.96L388.83 360.94L389.36 360.92L389.89 360.90L390.41 360.87L390.94 360.85L391.47 360.83L391.99 360.81L392.52 360.79L393.05 360.77L393.57 360.75L394.10 360.73L394.63 360.70L395.15 360.68L395.68 360.66L396.21 360.64L396.73 360.62L397.26 360.60L397.79 360.58L398.31 360.56L398.84 360.54L399.37 360.52L399.89 360.49L400.42 360.47L400.95 360.45L401.47 360.43L402.00 360.40L402.53 360.38L403.05 360.36L403.58 360.34L404.11 360.31L404.63 360.29L405.16 360.27L405.69 360.25L406.21 360.22L406.74 360.20L407.27 360.18L407.79 360.16L408.32 360.14L408.85 360.13L409.37 360.11L409.90 360.09L410.43 360.08L410.95 360.06L411.48 360.05L412.01 360.04L412.53 360.03L413.06 360.02L413.59 360.01L414.11 360.01L414.64 360.00L415.17 359.99L415.69 359.97L416.22 359.96L416.75 359.94L417.27 359.92L417.80 359.90L418.33 359.88L418.88 359.76L419.43 359.49L419.98 359.10L420.53 358.62L421.08 358.09L421.63 357.55L422.18 357.03L422.73 356.56L423.28 356.18L423.83 355.93L424.38 355.84L424.91 355.93L425.44 356.19L425.96 356.57L426.49 357.04L427.02 357.54L427.54 358.04L428.07 358.51L428.60 358.89L429.12 359.14L429.65 359.24L430.20 359.22L430.75 359.17L431.30 359.09L431.84 358.98L432.39 358.85L432.94 358.70L433.49 358.53L434.04 358.35L434.59 358.15L435.14 357.95L435.68 357.74L436.23 357.54L436.76 357.32L437.29 357.05L437.81 356.75L438.34 356.42L438.87 356.07L439.39 355.70L439.92 355.32L440.45 354.94L440.97 354.56L441.50 354.18L442.03 353.80L442.55 353.40L443.08 352.99L443.61 352.57L444.13 352.14L444.66 351.70L445.19 351.26L445.71 350.80L446.24 350.35L446.77 349.88L447.33 349.39L447.90 348.90L448.46 348.41L449.02 347.89L449.59 347.33L450.15 346.73L450.72 346.05L451.29 345.29L451.86 344.43L452.43 343.48L453.00 342.44L453.57 341.31L454.14 340.10L454.67 338.85L455.19 337.45L455.72 335.91L456.25 334.27L456.77 332.54L457.30 330.74L457.83 328.84L458.35 326.78L458.88 324.59L459.41 322.30L459.93 319.95L460.46 317.56L460.99 315.16L461.51 312.78L462.04 310.45L462.57 308.20L463.13 305.93L463.69 303.76L464.25 301.64L464.81 299.51L465.36 297.32L465.92 295.03L466.48 292.58L467.04 289.91L467.62 286.58L468.20 282.69L468.78 278.66L469.36 274.97L469.94 272.05L470.47 269.86L470.99 267.98L471.52 266.94L472.13 266.50L472.75 266.20L473.36 266.09L473.89 266.67L474.42 268.09L474.94 269.92L475.47 272.73L476.00 276.65L476.52 280.55L477.12 284.65L477.71 288.82L478.30 292.80L478.89 296.29L479.47 299.26L480.05 302.01L480.63 304.54L481.21 306.88L481.79 309.05L482.32 310.86L482.84 312.52L483.37 314.08L483.90 315.57L484.42 317.05L484.95 318.55L485.48 320.11L486.05 321.84L486.62 323.57L487.19 325.31L487.76 327.07L488.33 328.88L488.90 330.74L489.43 332.53L489.95 334.38L490.48 336.27L491.01 338.18L491.53 340.10L492.06 342.08L492.59 344.13L493.11 346.17L493.64 348.12L494.17 349.88L494.69 351.60L495.22 353.30L495.75 354.73L496.27 355.62L496.80 356.12L497.33 356.53L497.85 356.87L498.38 357.14L498.91 357.36L499.43 357.54L499.96 357.70L500.49 357.84L501.01 357.96L501.54 358.08L502.07 358.18L502.59 358.27L503.12 358.36L503.65 358.44L504.17 358.52L504.70 358.60L505.23 358.68L505.75 358.75L506.28 358.81L506.81 358.88L507.33 358.94L507.86 359.00L508.39 359.05L508.91 359.11L509.44 359.18L509.97 359.24L510.49 359.31L511.02 359.38L511.55 359.45L512.07 359.52L512.60 359.59L513.13 359.66L513.65 359.73L514.18 359.80L514.71 359.88L515.23 359.95L515.76 360.02L516.29 360.09L516.81 360.16L517.34 360.23L517.87 360.30L518.42 360.38L518.96 360.45L519.51 360.52L520.06 360.59L520.61 360.66L521.16 360.73L521.71 360.80L522.26 360.87L522.80 360.94L523.35 361.01L523.90 361.08L524.45 361.15" stroke="#a463dc"/>
</g>
<line x1="54.00" y1="164.30" x2="54.00" y2="161.20" class="tk"/>
<text transform="translate(54.00 178.30) scale(1 1.000)" text-anchor="middle" class="tl">-100</text>
<line x1="67.21" y1="164.30" x2="67.21" y2="162.40" class="tk"/>
<line x1="80.43" y1="164.30" x2="80.43" y2="161.20" class="tk"/>
<text transform="translate(80.43 178.30) scale(1 1.000)" text-anchor="middle" class="tl">0</text>
<line x1="93.64" y1="164.30" x2="93.64" y2="162.40" class="tk"/>
<line x1="106.85" y1="164.30" x2="106.85" y2="161.20" class="tk"/>
<text transform="translate(106.85 178.30) scale(1 1.000)" text-anchor="middle" class="tl">100</text>
<line x1="120.07" y1="164.30" x2="120.07" y2="162.40" class="tk"/>
<line x1="133.28" y1="164.30" x2="133.28" y2="161.20" class="tk"/>
<text transform="translate(133.28 178.30) scale(1 1.000)" text-anchor="middle" class="tl">200</text>
<line x1="146.49" y1="164.30" x2="146.49" y2="162.40" class="tk"/>
<line x1="159.71" y1="164.30" x2="159.71" y2="161.20" class="tk"/>
<text transform="translate(159.71 178.30) scale(1 1.000)" text-anchor="middle" class="tl">300</text>
<line x1="172.92" y1="164.30" x2="172.92" y2="162.40" class="tk"/>
<line x1="186.13" y1="164.30" x2="186.13" y2="161.20" class="tk"/>
<text transform="translate(186.13 178.30) scale(1 1.000)" text-anchor="middle" class="tl">400</text>
<line x1="199.35" y1="164.30" x2="199.35" y2="162.40" class="tk"/>
<line x1="212.56" y1="164.30" x2="212.56" y2="161.20" class="tk"/>
<text transform="translate(212.56 178.30) scale(1 1.000)" text-anchor="middle" class="tl">500</text>
<line x1="225.77" y1="164.30" x2="225.77" y2="162.40" class="tk"/>
<line x1="238.99" y1="164.30" x2="238.99" y2="161.20" class="tk"/>
<text transform="translate(238.99 178.30) scale(1 1.000)" text-anchor="middle" class="tl">600</text>
<line x1="252.20" y1="164.30" x2="252.20" y2="162.40" class="tk"/>
<line x1="54.00" y1="137.62" x2="55.90" y2="137.62" class="tk"/>
<line x1="54.00" y1="110.93" x2="55.90" y2="110.93" class="tk"/>
<line x1="54.00" y1="84.25" x2="55.90" y2="84.25" class="tk"/>
<line x1="54.00" y1="57.57" x2="55.90" y2="57.57" class="tk"/>
<line x1="54.00" y1="30.88" x2="55.90" y2="30.88" class="tk"/>
<line x1="54.00" y1="150.96" x2="57.10" y2="150.96" class="tk"/>
<text transform="translate(50.40 154.86) scale(1 1.000)" text-anchor="end" class="tl">0%</text>
<line x1="54.00" y1="124.28" x2="57.10" y2="124.28" class="tk"/>
<text transform="translate(50.40 128.18) scale(1 1.000)" text-anchor="end" class="tl">20%</text>
<line x1="54.00" y1="97.59" x2="57.10" y2="97.59" class="tk"/>
<text transform="translate(50.40 101.49) scale(1 1.000)" text-anchor="end" class="tl">40%</text>
<line x1="54.00" y1="70.91" x2="57.10" y2="70.91" class="tk"/>
<text transform="translate(50.40 74.81) scale(1 1.000)" text-anchor="end" class="tl">60%</text>
<line x1="54.00" y1="44.22" x2="57.10" y2="44.22" class="tk"/>
<text transform="translate(50.40 48.12) scale(1 1.000)" text-anchor="end" class="tl">80%</text>
<line x1="54.00" y1="17.54" x2="57.10" y2="17.54" class="tk"/>
<text transform="translate(50.40 21.44) scale(1 1.000)" text-anchor="end" class="tl">100%</text>
<rect x="54.00" y="4.20" width="198.20" height="160.10" class="fr"/>
<line x1="344.00" y1="163.60" x2="344.00" y2="160.50" class="tk"/>
<text transform="translate(344.00 177.60) scale(1 1.000)" text-anchor="middle" class="tl">-100</text>
<line x1="357.16" y1="163.60" x2="357.16" y2="161.70" class="tk"/>
<line x1="370.32" y1="163.60" x2="370.32" y2="160.50" class="tk"/>
<text transform="translate(370.32 177.60) scale(1 1.000)" text-anchor="middle" class="tl">0</text>
<line x1="383.48" y1="163.60" x2="383.48" y2="161.70" class="tk"/>
<line x1="396.64" y1="163.60" x2="396.64" y2="160.50" class="tk"/>
<text transform="translate(396.64 177.60) scale(1 1.000)" text-anchor="middle" class="tl">100</text>
<line x1="409.80" y1="163.60" x2="409.80" y2="161.70" class="tk"/>
<line x1="422.96" y1="163.60" x2="422.96" y2="160.50" class="tk"/>
<text transform="translate(422.96 177.60) scale(1 1.000)" text-anchor="middle" class="tl">200</text>
<line x1="436.12" y1="163.60" x2="436.12" y2="161.70" class="tk"/>
<line x1="449.28" y1="163.60" x2="449.28" y2="160.50" class="tk"/>
<text transform="translate(449.28 177.60) scale(1 1.000)" text-anchor="middle" class="tl">300</text>
<line x1="462.44" y1="163.60" x2="462.44" y2="161.70" class="tk"/>
<line x1="475.60" y1="163.60" x2="475.60" y2="160.50" class="tk"/>
<text transform="translate(475.60 177.60) scale(1 1.000)" text-anchor="middle" class="tl">400</text>
<line x1="488.76" y1="163.60" x2="488.76" y2="161.70" class="tk"/>
<line x1="501.92" y1="163.60" x2="501.92" y2="160.50" class="tk"/>
<text transform="translate(501.92 177.60) scale(1 1.000)" text-anchor="middle" class="tl">500</text>
<line x1="515.08" y1="163.60" x2="515.08" y2="161.70" class="tk"/>
<line x1="528.24" y1="163.60" x2="528.24" y2="160.50" class="tk"/>
<text transform="translate(528.24 177.60) scale(1 1.000)" text-anchor="middle" class="tl">600</text>
<line x1="541.40" y1="163.60" x2="541.40" y2="161.70" class="tk"/>
<line x1="344.00" y1="137.10" x2="345.90" y2="137.10" class="tk"/>
<line x1="344.00" y1="110.60" x2="345.90" y2="110.60" class="tk"/>
<line x1="344.00" y1="84.10" x2="345.90" y2="84.10" class="tk"/>
<line x1="344.00" y1="57.60" x2="345.90" y2="57.60" class="tk"/>
<line x1="344.00" y1="31.10" x2="345.90" y2="31.10" class="tk"/>
<line x1="344.00" y1="150.35" x2="347.10" y2="150.35" class="tk"/>
<text transform="translate(340.80 154.25) scale(1 1.000)" text-anchor="end" class="tl">0%</text>
<line x1="344.00" y1="123.85" x2="347.10" y2="123.85" class="tk"/>
<text transform="translate(340.80 127.75) scale(1 1.000)" text-anchor="end" class="tl">20%</text>
<line x1="344.00" y1="97.35" x2="347.10" y2="97.35" class="tk"/>
<text transform="translate(340.80 101.25) scale(1 1.000)" text-anchor="end" class="tl">40%</text>
<line x1="344.00" y1="70.85" x2="347.10" y2="70.85" class="tk"/>
<text transform="translate(340.80 74.75) scale(1 1.000)" text-anchor="end" class="tl">60%</text>
<line x1="344.00" y1="44.35" x2="347.10" y2="44.35" class="tk"/>
<text transform="translate(340.80 48.25) scale(1 1.000)" text-anchor="end" class="tl">80%</text>
<line x1="344.00" y1="17.85" x2="347.10" y2="17.85" class="tk"/>
<text transform="translate(340.80 21.75) scale(1 1.000)" text-anchor="end" class="tl">100%</text>
<rect x="344.00" y="4.60" width="197.40" height="159.00" class="fr"/>
<line x1="54.50" y1="372.00" x2="54.50" y2="368.90" class="tk"/>
<text transform="translate(54.50 386.00) scale(1 1.000)" text-anchor="middle" class="tl lite">-100</text>
<line x1="67.67" y1="372.00" x2="67.67" y2="370.10" class="tk"/>
<line x1="80.83" y1="372.00" x2="80.83" y2="368.90" class="tk"/>
<text transform="translate(80.83 386.00) scale(1 1.000)" text-anchor="middle" class="tl lite">0</text>
<line x1="94.00" y1="372.00" x2="94.00" y2="370.10" class="tk"/>
<line x1="107.17" y1="372.00" x2="107.17" y2="368.90" class="tk"/>
<text transform="translate(107.17 386.00) scale(1 1.000)" text-anchor="middle" class="tl lite">100</text>
<line x1="120.33" y1="372.00" x2="120.33" y2="370.10" class="tk"/>
<line x1="133.50" y1="372.00" x2="133.50" y2="368.90" class="tk"/>
<text transform="translate(133.50 386.00) scale(1 1.000)" text-anchor="middle" class="tl lite">200</text>
<line x1="146.67" y1="372.00" x2="146.67" y2="370.10" class="tk"/>
<line x1="159.83" y1="372.00" x2="159.83" y2="368.90" class="tk"/>
<text transform="translate(159.83 386.00) scale(1 1.000)" text-anchor="middle" class="tl lite">300</text>
<line x1="173.00" y1="372.00" x2="173.00" y2="370.10" class="tk"/>
<line x1="186.17" y1="372.00" x2="186.17" y2="368.90" class="tk"/>
<text transform="translate(186.17 386.00) scale(1 1.000)" text-anchor="middle" class="tl lite">400</text>
<line x1="199.33" y1="372.00" x2="199.33" y2="370.10" class="tk"/>
<line x1="212.50" y1="372.00" x2="212.50" y2="368.90" class="tk"/>
<text transform="translate(212.50 386.00) scale(1 1.000)" text-anchor="middle" class="tl lite">500</text>
<line x1="225.67" y1="372.00" x2="225.67" y2="370.10" class="tk"/>
<line x1="238.83" y1="372.00" x2="238.83" y2="368.90" class="tk"/>
<text transform="translate(238.83 386.00) scale(1 1.000)" text-anchor="middle" class="tl lite">600</text>
<line x1="252.00" y1="372.00" x2="252.00" y2="370.10" class="tk"/>
<line x1="54.50" y1="332.18" x2="56.40" y2="332.18" class="tk"/>
<line x1="54.50" y1="292.35" x2="56.40" y2="292.35" class="tk"/>
<line x1="54.50" y1="252.52" x2="56.40" y2="252.52" class="tk"/>
<line x1="54.50" y1="352.09" x2="57.60" y2="352.09" class="tk"/>
<text transform="translate(51.30 355.99) scale(1 1.000)" text-anchor="end" class="tl lite">0%</text>
<line x1="54.50" y1="312.26" x2="57.60" y2="312.26" class="tk"/>
<text transform="translate(51.30 316.16) scale(1 1.000)" text-anchor="end" class="tl lite">10%</text>
<line x1="54.50" y1="272.44" x2="57.60" y2="272.44" class="tk"/>
<text transform="translate(51.30 276.34) scale(1 1.000)" text-anchor="end" class="tl lite">20%</text>
<line x1="54.50" y1="232.61" x2="57.60" y2="232.61" class="tk"/>
<text transform="translate(51.30 236.51) scale(1 1.000)" text-anchor="end" class="tl lite">30%</text>
<rect x="54.50" y="212.70" width="197.50" height="159.30" class="fr"/>
<line x1="346.70" y1="372.00" x2="346.70" y2="368.90" class="tk"/>
<text transform="translate(346.70 386.00) scale(1 1.000)" text-anchor="middle" class="tl lite">-100</text>
<line x1="359.87" y1="372.00" x2="359.87" y2="370.10" class="tk"/>
<line x1="373.03" y1="372.00" x2="373.03" y2="368.90" class="tk"/>
<text transform="translate(373.03 386.00) scale(1 1.000)" text-anchor="middle" class="tl lite">0</text>
<line x1="386.20" y1="372.00" x2="386.20" y2="370.10" class="tk"/>
<line x1="399.37" y1="372.00" x2="399.37" y2="368.90" class="tk"/>
<text transform="translate(399.37 386.00) scale(1 1.000)" text-anchor="middle" class="tl lite">100</text>
<line x1="412.53" y1="372.00" x2="412.53" y2="370.10" class="tk"/>
<line x1="425.70" y1="372.00" x2="425.70" y2="368.90" class="tk"/>
<text transform="translate(425.70 386.00) scale(1 1.000)" text-anchor="middle" class="tl lite">200</text>
<line x1="438.87" y1="372.00" x2="438.87" y2="370.10" class="tk"/>
<line x1="452.03" y1="372.00" x2="452.03" y2="368.90" class="tk"/>
<text transform="translate(452.03 386.00) scale(1 1.000)" text-anchor="middle" class="tl lite">300</text>
<line x1="465.20" y1="372.00" x2="465.20" y2="370.10" class="tk"/>
<line x1="478.37" y1="372.00" x2="478.37" y2="368.90" class="tk"/>
<text transform="translate(478.37 386.00) scale(1 1.000)" text-anchor="middle" class="tl lite">400</text>
<line x1="491.53" y1="372.00" x2="491.53" y2="370.10" class="tk"/>
<line x1="504.70" y1="372.00" x2="504.70" y2="368.90" class="tk"/>
<text transform="translate(504.70 386.00) scale(1 1.000)" text-anchor="middle" class="tl lite">500</text>
<line x1="517.87" y1="372.00" x2="517.87" y2="370.10" class="tk"/>
<line x1="531.03" y1="372.00" x2="531.03" y2="368.90" class="tk"/>
<text transform="translate(531.03 386.00) scale(1 1.000)" text-anchor="middle" class="tl lite">600</text>
<line x1="544.20" y1="372.00" x2="544.20" y2="370.10" class="tk"/>
<line x1="346.70" y1="340.10" x2="348.60" y2="340.10" class="tk"/>
<line x1="346.70" y1="297.57" x2="348.60" y2="297.57" class="tk"/>
<line x1="346.70" y1="255.03" x2="348.60" y2="255.03" class="tk"/>
<line x1="346.70" y1="361.37" x2="349.80" y2="361.37" class="tk"/>
<text transform="translate(343.30 365.27) scale(1 1.000)" text-anchor="end" class="tl lite">0%</text>
<line x1="346.70" y1="318.83" x2="349.80" y2="318.83" class="tk"/>
<text transform="translate(343.30 322.73) scale(1 1.000)" text-anchor="end" class="tl lite">10%</text>
<line x1="346.70" y1="276.30" x2="349.80" y2="276.30" class="tk"/>
<text transform="translate(343.30 280.20) scale(1 1.000)" text-anchor="end" class="tl lite">20%</text>
<line x1="346.70" y1="233.77" x2="349.80" y2="233.77" class="tk"/>
<text transform="translate(343.30 237.67) scale(1 1.000)" text-anchor="end" class="tl lite">30%</text>
<rect x="346.70" y="212.50" width="197.50" height="159.50" class="fr"/>
<rect x="59.40" y="73.90" width="114.80" height="84.30" class="lg"/>
<line x1="60.20" y1="82.80" x2="92.00" y2="82.80" stroke="#4a4a4a" stroke-width="2"/>
<text transform="translate(95.00 87.30) scale(1 1.000)" class="lt">E<tspan dy="1.4">_</tspan><tspan dy="-1.4">(PUP 0%)</tspan></text>
<line x1="60.20" y1="99.42" x2="92.00" y2="99.42" stroke="#ee2a2e" stroke-width="2"/>
<text transform="translate(95.00 103.92) scale(1 1.000)" class="lt">E<tspan dy="1.4">_</tspan><tspan dy="-1.4">(PUP 10%)</tspan></text>
<line x1="60.20" y1="116.04" x2="92.00" y2="116.04" stroke="#1462dc" stroke-width="2"/>
<text transform="translate(95.00 120.54) scale(1 1.000)" class="lt">E<tspan dy="1.4">_</tspan><tspan dy="-1.4">(PUP 20%)</tspan></text>
<line x1="60.20" y1="132.66" x2="92.00" y2="132.66" stroke="#2fa864" stroke-width="2"/>
<text transform="translate(95.00 137.16) scale(1 1.000)" class="lt">E<tspan dy="1.4">_</tspan><tspan dy="-1.4">(PUP 25%)</tspan></text>
<line x1="60.20" y1="149.28" x2="92.00" y2="149.28" stroke="#a463dc" stroke-width="2"/>
<text transform="translate(95.00 153.78) scale(1 1.000)" class="lt">E<tspan dy="1.4">_</tspan><tspan dy="-1.4">(PUP 30%)</tspan></text>
<rect x="349.40" y="70.60" width="114.60" height="83.50" class="lg"/>
<line x1="350.20" y1="79.80" x2="381.50" y2="79.80" stroke="#4a4a4a" stroke-width="2"/>
<text transform="translate(384.50 84.30) scale(1 1.000)" class="lt">E<tspan dy="1.4">_</tspan><tspan dy="-1.4">(P</tspan><tspan dy="1.4">_</tspan><tspan dy="-1.4">M 0%)</tspan></text>
<line x1="350.20" y1="96.20" x2="381.50" y2="96.20" stroke="#ee2a2e" stroke-width="2"/>
<text transform="translate(384.50 100.70) scale(1 1.000)" class="lt">E<tspan dy="1.4">_</tspan><tspan dy="-1.4">(P</tspan><tspan dy="1.4">_</tspan><tspan dy="-1.4">M 10%)</tspan></text>
<line x1="350.20" y1="112.60" x2="381.50" y2="112.60" stroke="#1462dc" stroke-width="2"/>
<text transform="translate(384.50 117.10) scale(1 1.000)" class="lt">E<tspan dy="1.4">_</tspan><tspan dy="-1.4">(P</tspan><tspan dy="1.4">_</tspan><tspan dy="-1.4">M 20%)</tspan></text>
<line x1="350.20" y1="129.00" x2="381.50" y2="129.00" stroke="#2fa864" stroke-width="2"/>
<text transform="translate(384.50 133.50) scale(1 1.000)" class="lt">E<tspan dy="1.4">_</tspan><tspan dy="-1.4">(P</tspan><tspan dy="1.4">_</tspan><tspan dy="-1.4">M 25%)</tspan></text>
<line x1="350.20" y1="145.40" x2="381.50" y2="145.40" stroke="#a463dc" stroke-width="2"/>
<text transform="translate(384.50 149.90) scale(1 1.000)" class="lt">E<tspan dy="1.4">_</tspan><tspan dy="-1.4">(P</tspan><tspan dy="1.4">_</tspan><tspan dy="-1.4">M 30%)</tspan></text>
<rect x="57.70" y="214.50" width="114.50" height="84.10" class="lg"/>
<line x1="58.50" y1="223.50" x2="90.50" y2="223.50" stroke="#4a4a4a" stroke-width="2"/>
<text transform="translate(93.50 228.00) scale(1 1.000)" class="lt lite">E<tspan dy="1.4">_</tspan><tspan dy="-1.4">(PUP 0%)</tspan></text>
<line x1="58.50" y1="240.13" x2="90.50" y2="240.13" stroke="#ee2a2e" stroke-width="2"/>
<text transform="translate(93.50 244.63) scale(1 1.000)" class="lt lite">E<tspan dy="1.4">_</tspan><tspan dy="-1.4">(PUP 10%)</tspan></text>
<line x1="58.50" y1="256.76" x2="90.50" y2="256.76" stroke="#1462dc" stroke-width="2"/>
<text transform="translate(93.50 261.26) scale(1 1.000)" class="lt lite">E<tspan dy="1.4">_</tspan><tspan dy="-1.4">(PUP 20%)</tspan></text>
<line x1="58.50" y1="273.39" x2="90.50" y2="273.39" stroke="#2fa864" stroke-width="2"/>
<text transform="translate(93.50 277.89) scale(1 1.000)" class="lt lite">E<tspan dy="1.4">_</tspan><tspan dy="-1.4">(PUP 25%)</tspan></text>
<line x1="58.50" y1="290.02" x2="90.50" y2="290.02" stroke="#a463dc" stroke-width="2"/>
<text transform="translate(93.50 294.52) scale(1 1.000)" class="lt lite">E<tspan dy="1.4">_</tspan><tspan dy="-1.4">(PUP 30%)</tspan></text>
<rect x="349.80" y="217.70" width="115.20" height="84.40" class="lg"/>
<line x1="350.50" y1="226.80" x2="382.00" y2="226.80" stroke="#4a4a4a" stroke-width="2"/>
<text transform="translate(385.00 231.30) scale(1 1.000)" class="lt lite">E<tspan dy="1.4">_</tspan><tspan dy="-1.4">(P</tspan><tspan dy="1.4">_</tspan><tspan dy="-1.4">M 0%)</tspan></text>
<line x1="350.50" y1="243.40" x2="382.00" y2="243.40" stroke="#ee2a2e" stroke-width="2"/>
<text transform="translate(385.00 247.90) scale(1 1.000)" class="lt lite">E<tspan dy="1.4">_</tspan><tspan dy="-1.4">(P</tspan><tspan dy="1.4">_</tspan><tspan dy="-1.4">M 10%)</tspan></text>
<line x1="350.50" y1="260.00" x2="382.00" y2="260.00" stroke="#1462dc" stroke-width="2"/>
<text transform="translate(385.00 264.50) scale(1 1.000)" class="lt lite">E<tspan dy="1.4">_</tspan><tspan dy="-1.4">(P</tspan><tspan dy="1.4">_</tspan><tspan dy="-1.4">M 20%)</tspan></text>
<line x1="350.50" y1="276.60" x2="382.00" y2="276.60" stroke="#2fa864" stroke-width="2"/>
<text transform="translate(385.00 281.10) scale(1 1.000)" class="lt lite">E<tspan dy="1.4">_</tspan><tspan dy="-1.4">(P</tspan><tspan dy="1.4">_</tspan><tspan dy="-1.4">M 25%)</tspan></text>
<line x1="350.50" y1="293.20" x2="382.00" y2="293.20" stroke="#a463dc" stroke-width="2"/>
<text transform="translate(385.00 297.70) scale(1 1.000)" class="lt lite">E<tspan dy="1.4">_</tspan><tspan dy="-1.4">(P</tspan><tspan dy="1.4">_</tspan><tspan dy="-1.4">M 30%)</tspan></text>
<text transform="translate(248.60 17.80) scale(1 1.040)" text-anchor="end" class="pl">(a)</text>
<text transform="translate(538.00 18.00) scale(1 1.040)" text-anchor="end" class="pl">(b)</text>
<text transform="translate(249.60 227.20) scale(1 1.040)" text-anchor="end" class="pl2 lite">(c)</text>
<text transform="translate(539.50 227.20) scale(1 1.040)" text-anchor="end" class="pl2 lite">(d)</text>
<text x="153.2" y="201" text-anchor="middle" class="xl">Temperature (°C)</text>
<text x="443.2" y="201" text-anchor="middle" class="xl">Temperature (°C)</text>
<text x="154" y="406" text-anchor="middle" class="xl2 lite">Temperature (°C)</text>
<text x="446.2" y="406" text-anchor="middle" class="xl2 lite">Temperature (°C)</text>
<text transform="translate(16.5,77.4) rotate(-90)" text-anchor="middle" class="yl">Weight (%)</text>
<text transform="translate(304.7,77.2) rotate(-90)" text-anchor="middle" class="yl">Weight (%)</text>
<text transform="translate(16.6,285) rotate(-90)" text-anchor="middle" class="yl lite">Deriv.Weight ( wt %/min)</text>
<text transform="translate(308.8,284.8) rotate(-90)" text-anchor="middle" class="yl lite">Deriv.Weight ( wt %/min)</text>
</svg>
</body></html>
